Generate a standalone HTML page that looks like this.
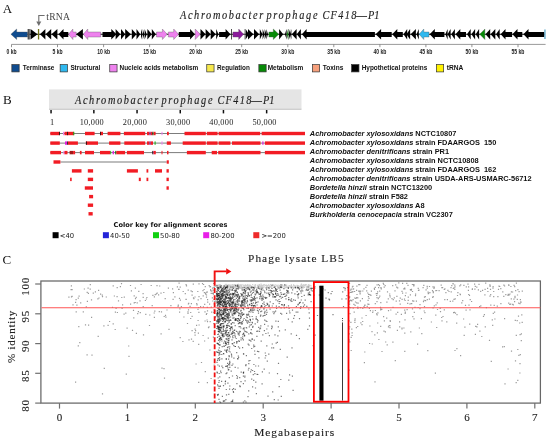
<!DOCTYPE html>
<html><head><meta charset="utf-8"><title>Achromobacter prophage CF418-P1</title>
<style>
*{margin:0;padding:0}
html,body{width:550px;height:441px;background:#fff;overflow:hidden}
svg{display:block}
.lab{font-family:"Liberation Serif",serif;font-size:13px;fill:#111}
.tA{font-family:"Liberation Serif",serif;font-style:italic;font-size:12px;fill:#1e1e1e;stroke:#1e1e1e;stroke-width:0.15px}
.trna{font-family:"Liberation Serif",serif;font-size:9.6px;letter-spacing:0.2px;fill:#444}
.kb{font-family:"Liberation Sans",sans-serif;font-weight:bold;font-size:7px;fill:#222}
.lg{font-family:"Liberation Sans",sans-serif;font-weight:bold;font-size:6.5px;fill:#111}
.axB{font-family:"Liberation Serif",serif;font-size:8.3px;letter-spacing:0.25px;fill:#222}
.sl{font-family:"Liberation Sans",sans-serif;font-weight:bold;font-size:7.4px;fill:#111}
.ck{font-family:"DejaVu Sans",sans-serif;font-weight:bold;font-size:6.6px;fill:#111}
.kt{font-family:"DejaVu Sans",sans-serif;font-size:6.8px;fill:#222}
.tC{font-family:"Liberation Serif",serif;font-size:11.3px;letter-spacing:1.05px;fill:#222;stroke:#222;stroke-width:0.12px}
.tC2{font-family:"Liberation Serif",serif;font-size:11.4px;letter-spacing:0.98px;fill:#222;stroke:#222;stroke-width:0.12px}
.axC{font-family:"Liberation Serif",serif;font-size:11px;fill:#222;stroke:#222;stroke-width:0.1px}
</style></head><body>
<svg width="550" height="441" viewBox="0 0 550 441">
<rect width="550" height="441" fill="#fff"/>
<g id="A">
<text x="2.7" y="12.9" class="lab">A</text>
<text transform="translate(180.0 18.5) scale(0.86 1)" class="tA" textLength="96.7" lengthAdjust="spacing">Achromobacter</text>
<text transform="translate(266.4 18.5) scale(0.86 1)" class="tA" textLength="59.5" lengthAdjust="spacing">prophage</text>
<text transform="translate(322.4 18.5) scale(0.86 1)" class="tA" textLength="39.5" lengthAdjust="spacing">CF418</text>
<text x="356.3" y="18.5" class="tA">—</text>
<text transform="translate(368.0 18.5) scale(0.86 1)" class="tA" textLength="13.4" lengthAdjust="spacing">P1</text>
<text x="46.3" y="19.5" class="trna">tRNA</text>
<path d="M44.6 15.5 H38.8 V21.8" fill="none" stroke="#6e6e6e" stroke-width="1.1"/>
<polygon points="36.3,21.4 41.3,21.4 38.8,25.9" fill="#6e6e6e"/>
<rect x="12" y="33.75" width="532.5" height="1" fill="#111"/>
<polygon points="27.6,32.0 16.7,32.0 16.7,29.0 10.9,34.25 16.7,39.5 16.7,37.0 27.6,37.0" fill="#0f4c8f" stroke="#555" stroke-width="0.35"/><rect x="27.6" y="29.0" width="2.2" height="10.5" fill="#505050"/><polygon points="30.5,29.0 37.6,34.25 30.5,39.5" fill="#000"/><rect x="37.9" y="29.0" width="1.3" height="10.5" fill="#727318"/><polygon points="45.4,29.0 40.0,34.25 45.4,39.5" fill="#000"/><polygon points="51.2,29.0 45.6,34.25 51.2,39.5" fill="#000"/><polygon points="57.4,29.0 51.5,34.25 57.4,39.5" fill="#000"/><polygon points="68.3,32.0 63.5,32.0 63.5,29.0 58.4,34.25 63.5,39.5 63.5,37.0 68.3,37.0" fill="#000"/><polygon points="76.2,32.0 72.9,32.0 72.9,29.0 68.5,34.25 72.9,39.5 72.9,37.0 76.2,37.0" fill="#ee82ee" stroke="#555" stroke-width="0.35"/><polygon points="82.9,29.0 76.1,34.25 82.9,39.5" fill="#000"/><polygon points="100.7,32.0 87.8,32.0 87.8,29.0 83.3,34.25 87.8,39.5 87.8,37.0 100.7,37.0" fill="#ee82ee" stroke="#555" stroke-width="0.35"/><polygon points="102.5,32.0 111.3,32.0 111.3,29.0 116.4,34.25 111.3,39.5 111.3,37.0 102.5,37.0" fill="#000"/><polygon points="115.6,29.0 120.4,34.25 115.6,39.5" fill="#000"/><polygon points="121.0,29.0 125.2,34.25 121.0,39.5" fill="#000"/><polygon points="125.2,29.0 130.9,34.25 125.2,39.5" fill="#000"/><polygon points="131.8,29.0 136.5,34.25 131.8,39.5" fill="#000"/><polygon points="136.5,29.0 140.3,34.25 136.5,39.5" fill="#000"/><polygon points="141.0,29.0 142.6,34.25 141.0,39.5" fill="#000"/><polygon points="142.8,29.0 144.4,34.25 142.8,39.5" fill="#000"/><polygon points="144.6,29.0 146.8,34.25 144.6,39.5" fill="#000"/><polygon points="147.4,29.0 151.8,34.25 147.4,39.5" fill="#000"/><polygon points="151.8,29.0 155.8,34.25 151.8,39.5" fill="#000"/><polygon points="156.5,32.0 162.4,32.0 162.4,29.0 167.2,34.25 162.4,39.5 162.4,37.0 156.5,37.0" fill="#ee82ee" stroke="#555" stroke-width="0.35"/><polygon points="168.3,32.0 173.7,32.0 173.7,29.0 178.6,34.25 173.7,39.5 173.7,37.0 168.3,37.0" fill="#ee82ee" stroke="#555" stroke-width="0.35"/><polygon points="178.8,32.0 190.1,32.0 190.1,29.0 194.9,34.25 190.1,39.5 190.1,37.0 178.8,37.0" fill="#000"/><polygon points="195.2,29.0 200.3,34.25 195.2,39.5" fill="#ee82ee" stroke="#555" stroke-width="0.35"/><polygon points="200.5,29.0 205.6,34.25 200.5,39.5" fill="#000"/><polygon points="205.6,29.0 210.7,34.25 205.6,39.5" fill="#000"/><polygon points="210.7,29.0 215.8,34.25 210.7,39.5" fill="#000"/><polygon points="216.2,29.0 218.5,34.25 216.2,39.5" fill="#000"/><polygon points="219.1,32.0 225.6,32.0 225.6,29.0 230.5,34.25 225.6,39.5 225.6,37.0 219.1,37.0" fill="#000"/><rect x="231.1" y="29.0" width="0.8" height="10.5" fill="#222"/><polygon points="232.9,32.0 238.7,32.0 238.7,29.0 243.6,34.25 238.7,39.5 238.7,37.0 232.9,37.0" fill="#8c1a9c" stroke="#555" stroke-width="0.35"/><rect x="244.6" y="29.0" width="0.7" height="10.5" fill="#555"/><polygon points="245.6,29.0 249.0,34.25 245.6,39.5" fill="#000"/><polygon points="248.0,29.0 253.4,34.25 248.0,39.5" fill="#000"/><polygon points="254.0,29.0 259.2,34.25 254.0,39.5" fill="#000"/><polygon points="259.8,29.0 262.5,34.25 259.8,39.5" fill="#000"/><polygon points="262.6,29.0 264.6,34.25 262.6,39.5" fill="#000"/><polygon points="264.7,29.0 266.6,34.25 264.7,39.5" fill="#000"/><polygon points="266.4,29.0 268.0,34.25 266.4,39.5" fill="#000"/><polygon points="268.9,32.0 273.3,32.0 273.3,29.0 278.8,34.25 273.3,39.5 273.3,37.0 268.9,37.0" fill="#078a07" stroke="#555" stroke-width="0.35"/><polygon points="279.1,29.0 283.2,34.25 279.1,39.5" fill="#000"/><polygon points="286.6,29.0 284.9,34.25 286.6,39.5" fill="#000"/><polygon points="288.4,29.0 286.7,34.25 288.4,39.5" fill="#078a07" stroke="#555" stroke-width="0.35"/><polygon points="290.1,29.0 288.5,34.25 290.1,39.5" fill="#000"/><polygon points="291.4,29.0 289.9,34.25 291.4,39.5" fill="#000"/><polygon points="296.6,29.0 291.8,34.25 296.6,39.5" fill="#000"/><polygon points="300.9,29.0 296.8,34.25 300.9,39.5" fill="#000"/><polygon points="374.9,32.0 306.6,32.0 306.6,29.0 301.9,34.25 306.6,39.5 306.6,37.0 374.9,37.0" fill="#000"/><polygon points="391.7,32.0 381.1,32.0 381.1,29.0 375.6,34.25 381.1,39.5 381.1,37.0 391.7,37.0" fill="#000"/><polygon points="402.8,32.0 397.3,32.0 397.3,29.0 392.2,34.25 397.3,39.5 397.3,37.0 402.8,37.0" fill="#000"/><polygon points="407.2,29.0 403.5,34.25 407.2,39.5" fill="#000"/><polygon points="410.1,29.0 406.4,34.25 410.1,39.5" fill="#000"/><polygon points="415.9,29.0 410.7,34.25 415.9,39.5" fill="#000"/><polygon points="418.8,29.0 416.5,34.25 418.8,39.5" fill="#000"/><polygon points="429.0,32.0 423.8,32.0 423.8,29.0 419.1,34.25 423.8,39.5 423.8,37.0 429.0,37.0" fill="#2fb8ef" stroke="#555" stroke-width="0.35"/><polygon points="444.4,32.0 434.8,32.0 434.8,29.0 429.7,34.25 434.8,39.5 434.8,37.0 444.4,37.0" fill="#000"/><polygon points="447.6,29.0 445.4,34.25 447.6,39.5" fill="#000"/><polygon points="450.6,29.0 447.6,34.25 450.6,39.5" fill="#000"/><polygon points="454.9,29.0 451.2,34.25 454.9,39.5" fill="#000"/><polygon points="466.0,32.0 460.3,32.0 460.3,29.0 455.5,34.25 460.3,39.5 460.3,37.0 466.0,37.0" fill="#000"/><polygon points="470.7,29.0 467.0,34.25 470.7,39.5" fill="#000"/><polygon points="475.1,29.0 471.4,34.25 475.1,39.5" fill="#000"/><polygon points="479.1,29.0 475.7,34.25 479.1,39.5" fill="#000"/><polygon points="484.9,29.0 479.7,34.25 484.9,39.5" fill="#078a07" stroke="#555" stroke-width="0.35"/><polygon points="490.2,29.0 485.5,34.25 490.2,39.5" fill="#000"/><polygon points="495.3,29.0 490.6,34.25 495.3,39.5" fill="#000"/><polygon points="499.7,29.0 496.0,34.25 499.7,39.5" fill="#000"/><polygon points="512.1,32.0 505.5,32.0 505.5,29.0 500.7,34.25 505.5,39.5 505.5,37.0 512.1,37.0" fill="#000"/><polygon points="522.3,32.0 517.5,32.0 517.5,29.0 512.4,34.25 517.5,39.5 517.5,37.0 522.3,37.0" fill="#000"/><polygon points="544.3,32.0 528.5,32.0 528.5,29.0 523.4,34.25 528.5,39.5 528.5,37.0 544.3,37.0" fill="#000"/><rect x="544.3" y="29.5" width="1.3" height="9.5" fill="#5aa6c8"/>
<line x1="11.5" y1="44.4" x2="545.6" y2="44.4" stroke="#9a9a9a" stroke-width="1"/>
<line x1="11.5" y1="44.4" x2="11.5" y2="47.2" stroke="#777" stroke-width="0.8"/>
<text x="11.5" y="53.6" class="kb" text-anchor="middle" textLength="10.1" lengthAdjust="spacingAndGlyphs">0 kb</text>
<line x1="57.5" y1="44.4" x2="57.5" y2="47.2" stroke="#777" stroke-width="0.8"/>
<text x="57.5" y="53.6" class="kb" text-anchor="middle" textLength="10.1" lengthAdjust="spacingAndGlyphs">5 kb</text>
<line x1="103.6" y1="44.4" x2="103.6" y2="47.2" stroke="#777" stroke-width="0.8"/>
<text x="103.6" y="53.6" class="kb" text-anchor="middle" textLength="12.9" lengthAdjust="spacingAndGlyphs">10 kb</text>
<line x1="149.6" y1="44.4" x2="149.6" y2="47.2" stroke="#777" stroke-width="0.8"/>
<text x="149.6" y="53.6" class="kb" text-anchor="middle" textLength="12.9" lengthAdjust="spacingAndGlyphs">15 kb</text>
<line x1="195.7" y1="44.4" x2="195.7" y2="47.2" stroke="#777" stroke-width="0.8"/>
<text x="195.7" y="53.6" class="kb" text-anchor="middle" textLength="12.9" lengthAdjust="spacingAndGlyphs">20 kb</text>
<line x1="241.7" y1="44.4" x2="241.7" y2="47.2" stroke="#777" stroke-width="0.8"/>
<text x="241.7" y="53.6" class="kb" text-anchor="middle" textLength="12.9" lengthAdjust="spacingAndGlyphs">25 kb</text>
<line x1="287.8" y1="44.4" x2="287.8" y2="47.2" stroke="#777" stroke-width="0.8"/>
<text x="287.8" y="53.6" class="kb" text-anchor="middle" textLength="12.9" lengthAdjust="spacingAndGlyphs">30 kb</text>
<line x1="333.8" y1="44.4" x2="333.8" y2="47.2" stroke="#777" stroke-width="0.8"/>
<text x="333.8" y="53.6" class="kb" text-anchor="middle" textLength="12.9" lengthAdjust="spacingAndGlyphs">35 kb</text>
<line x1="379.9" y1="44.4" x2="379.9" y2="47.2" stroke="#777" stroke-width="0.8"/>
<text x="379.9" y="53.6" class="kb" text-anchor="middle" textLength="12.9" lengthAdjust="spacingAndGlyphs">40 kb</text>
<line x1="425.9" y1="44.4" x2="425.9" y2="47.2" stroke="#777" stroke-width="0.8"/>
<text x="425.9" y="53.6" class="kb" text-anchor="middle" textLength="12.9" lengthAdjust="spacingAndGlyphs">45 kb</text>
<line x1="471.9" y1="44.4" x2="471.9" y2="47.2" stroke="#777" stroke-width="0.8"/>
<text x="471.9" y="53.6" class="kb" text-anchor="middle" textLength="12.9" lengthAdjust="spacingAndGlyphs">50 kb</text>
<line x1="518.0" y1="44.4" x2="518.0" y2="47.2" stroke="#777" stroke-width="0.8"/>
<text x="518.0" y="53.6" class="kb" text-anchor="middle" textLength="12.9" lengthAdjust="spacingAndGlyphs">55 kb</text>
<rect x="11.85" y="64.6" width="7.3" height="7.3" fill="#0f4c8f" stroke="#333" stroke-width="0.7"/>
<text x="22.7" y="70.0" class="lg" textLength="31.6" lengthAdjust="spacingAndGlyphs">Terminase</text>
<rect x="60.15" y="64.6" width="7.3" height="7.3" fill="#2fb8ef" stroke="#333" stroke-width="0.7"/>
<text x="70.4" y="70.0" class="lg" textLength="29.9" lengthAdjust="spacingAndGlyphs">Structural</text>
<rect x="109.75" y="64.6" width="7.3" height="7.3" fill="#ee82ee" stroke="#333" stroke-width="0.7"/>
<text x="119.5" y="70.0" class="lg" textLength="78.8" lengthAdjust="spacingAndGlyphs">Nucleic acids metabolism</text>
<rect x="206.75" y="64.6" width="7.3" height="7.3" fill="#f6e84c" stroke="#333" stroke-width="0.7"/>
<text x="217.0" y="70.0" class="lg" textLength="32.9" lengthAdjust="spacingAndGlyphs">Regulation</text>
<rect x="258.85" y="64.6" width="7.3" height="7.3" fill="#078a07" stroke="#333" stroke-width="0.7"/>
<text x="267.7" y="70.0" class="lg" textLength="35.6" lengthAdjust="spacingAndGlyphs">Metabolism</text>
<rect x="312.35" y="64.6" width="7.3" height="7.3" fill="#f7a07c" stroke="#333" stroke-width="0.7"/>
<text x="322.7" y="70.0" class="lg" textLength="20.6" lengthAdjust="spacingAndGlyphs">Toxins</text>
<rect x="351.65" y="64.6" width="7.3" height="7.3" fill="#000" stroke="#333" stroke-width="0.7"/>
<text x="361.7" y="70.0" class="lg" textLength="65.6" lengthAdjust="spacingAndGlyphs">Hypothetical proteins</text>
<rect x="436.35" y="64.6" width="7.3" height="7.3" fill="#fff200" stroke="#333" stroke-width="0.7"/>
<text x="446.7" y="70.0" class="lg" textLength="16.6" lengthAdjust="spacingAndGlyphs">tRNA</text>
</g>
<g id="B">
<text x="2.9" y="104.3" class="lab">B</text>
<rect x="49" y="89.4" width="252.5" height="19.6" fill="#e5e5e5"/>
<rect x="49" y="108.6" width="252.5" height="1.4" fill="#cfcfcf"/>
<text transform="translate(75.0 103.6) scale(0.86 1)" class="tA" textLength="96.7" lengthAdjust="spacing">Achromobacter</text>
<text transform="translate(161.4 103.6) scale(0.86 1)" class="tA" textLength="59.5" lengthAdjust="spacing">prophage</text>
<text transform="translate(217.4 103.6) scale(0.86 1)" class="tA" textLength="39.5" lengthAdjust="spacing">CF418</text>
<text x="251.3" y="103.6" class="tA">—</text>
<text transform="translate(263.0 103.6) scale(0.86 1)" class="tA" textLength="13.4" lengthAdjust="spacing">P1</text>
<rect x="50.3" y="110" width="1.5" height="3.4" fill="#111"/>
<text x="50.0" y="124.6" class="axB">1</text>
<rect x="93.1" y="110" width="1.5" height="3.4" fill="#111"/>
<text x="91.8" y="124.7" class="axB" text-anchor="middle">10,000</text>
<rect x="136.3" y="110" width="1.5" height="3.4" fill="#111"/>
<text x="135.0" y="124.7" class="axB" text-anchor="middle">20,000</text>
<rect x="179.5" y="110" width="1.5" height="3.4" fill="#111"/>
<text x="178.2" y="124.7" class="axB" text-anchor="middle">30,000</text>
<rect x="222.7" y="110" width="1.5" height="3.4" fill="#111"/>
<text x="221.4" y="124.7" class="axB" text-anchor="middle">40,000</text>
<rect x="265.9" y="110" width="1.5" height="3.4" fill="#111"/>
<text x="264.6" y="124.7" class="axB" text-anchor="middle">50,000</text>
<rect x="50.3" y="133.00" width="254.7" height="1" fill="#7c7c7c"/>
<rect x="50.3" y="131.80" width="9.50" height="3.4" fill="#f21c24"/>
<rect x="59.2" y="131.80" width="0.80" height="3.4" fill="#111"/>
<rect x="63.0" y="131.80" width="1.20" height="3.4" fill="#ee82ee"/>
<rect x="64.5" y="131.80" width="9.50" height="3.4" fill="#f21c24"/>
<rect x="67.2" y="131.80" width="0.80" height="3.4" fill="#111"/>
<rect x="73.3" y="131.80" width="1.00" height="3.4" fill="#10b010"/>
<rect x="85" y="131.80" width="9.60" height="3.4" fill="#f21c24"/>
<rect x="100" y="131.80" width="3.00" height="3.4" fill="#f21c24"/>
<rect x="100.2" y="131.80" width="0.80" height="3.4" fill="#111"/>
<rect x="107.6" y="131.80" width="12.80" height="3.4" fill="#f21c24"/>
<rect x="123.9" y="131.80" width="21.30" height="3.4" fill="#f21c24"/>
<rect x="147" y="131.80" width="2.40" height="3.4" fill="#f21c24"/>
<rect x="149.4" y="131.80" width="1.30" height="3.4" fill="#8a1aa0"/>
<rect x="150.7" y="131.80" width="1.60" height="3.4" fill="#f21c24"/>
<rect x="152.3" y="131.80" width="0.60" height="3.4" fill="#111"/>
<rect x="152.9" y="131.80" width="0.70" height="3.4" fill="#10b010"/>
<rect x="153.6" y="131.80" width="2.00" height="3.4" fill="#f21c24"/>
<rect x="161.5" y="131.80" width="1.00" height="3.4" fill="#ee82ee"/>
<rect x="167" y="131.80" width="1.80" height="3.4" fill="#f21c24"/>
<rect x="184.5" y="131.80" width="21.30" height="3.4" fill="#f21c24"/>
<rect x="206.8" y="131.80" width="10.80" height="3.4" fill="#f21c24"/>
<rect x="218.6" y="131.80" width="41.60" height="3.4" fill="#f21c24"/>
<rect x="261.6" y="131.80" width="43.40" height="3.4" fill="#f21c24"/>
<rect x="50.3" y="142.60" width="254.7" height="1" fill="#7c7c7c"/>
<rect x="50.3" y="141.40" width="9.50" height="3.4" fill="#f21c24"/>
<rect x="65" y="141.40" width="2.20" height="3.4" fill="#e020e0"/>
<rect x="67.2" y="141.40" width="0.80" height="3.4" fill="#111"/>
<rect x="68" y="141.40" width="9.90" height="3.4" fill="#f21c24"/>
<rect x="85.8" y="141.40" width="12.20" height="3.4" fill="#f21c24"/>
<rect x="86" y="141.40" width="0.80" height="3.4" fill="#111"/>
<rect x="109.1" y="141.40" width="11.30" height="3.4" fill="#f21c24"/>
<rect x="124.3" y="141.40" width="20.90" height="3.4" fill="#f21c24"/>
<rect x="147" y="141.40" width="2.40" height="3.4" fill="#f21c24"/>
<rect x="149.4" y="141.40" width="1.30" height="3.4" fill="#8a1aa0"/>
<rect x="150.7" y="141.40" width="2.30" height="3.4" fill="#f21c24"/>
<rect x="154.6" y="141.40" width="1.00" height="3.4" fill="#10b010"/>
<rect x="161.5" y="141.40" width="1.00" height="3.4" fill="#ee82ee"/>
<rect x="166.8" y="141.40" width="4.10" height="3.4" fill="#f21c24"/>
<rect x="182.7" y="141.40" width="23.10" height="3.4" fill="#f21c24"/>
<rect x="206.8" y="141.40" width="10.80" height="3.4" fill="#f21c24"/>
<rect x="218.6" y="141.40" width="11.80" height="3.4" fill="#f21c24"/>
<rect x="232" y="141.40" width="28.50" height="3.4" fill="#f21c24"/>
<rect x="262.3" y="141.40" width="1.20" height="3.4" fill="#e020e0"/>
<rect x="264.9" y="141.40" width="40.10" height="3.4" fill="#f21c24"/>
<rect x="50.3" y="152.10" width="254.7" height="1" fill="#7c7c7c"/>
<rect x="50.3" y="150.90" width="10.70" height="3.4" fill="#f21c24"/>
<rect x="63.3" y="150.90" width="1.20" height="3.4" fill="#ee82ee"/>
<rect x="64.5" y="150.90" width="3.00" height="3.4" fill="#f21c24"/>
<rect x="69.6" y="150.90" width="3.50" height="3.4" fill="#a01818"/>
<rect x="73.1" y="150.90" width="2.00" height="3.4" fill="#f21c24"/>
<rect x="79.9" y="150.90" width="1.70" height="3.4" fill="#f21c24"/>
<rect x="85" y="150.90" width="9.00" height="3.4" fill="#f21c24"/>
<rect x="100" y="150.90" width="10.30" height="3.4" fill="#f21c24"/>
<rect x="110.3" y="150.90" width="0.80" height="3.4" fill="#10b010"/>
<rect x="112.6" y="150.90" width="1.40" height="3.4" fill="#e020e0"/>
<rect x="115" y="150.90" width="0.60" height="3.4" fill="#111"/>
<rect x="115.6" y="150.90" width="0.70" height="3.4" fill="#10b010"/>
<rect x="116.3" y="150.90" width="8.80" height="3.4" fill="#f21c24"/>
<rect x="126.9" y="150.90" width="17.10" height="3.4" fill="#f21c24"/>
<rect x="152.3" y="150.90" width="0.80" height="3.4" fill="#111"/>
<rect x="153.1" y="150.90" width="0.50" height="3.4" fill="#8a1aa0"/>
<rect x="153.6" y="150.90" width="2.20" height="3.4" fill="#f21c24"/>
<rect x="161.5" y="150.90" width="1.00" height="3.4" fill="#f21c24"/>
<rect x="167" y="150.90" width="1.50" height="3.4" fill="#f21c24"/>
<rect x="186.9" y="150.90" width="18.90" height="3.4" fill="#f21c24"/>
<rect x="211.7" y="150.90" width="5.30" height="3.4" fill="#f21c24"/>
<rect x="218.2" y="150.90" width="42.30" height="3.4" fill="#f21c24"/>
<rect x="264.9" y="150.90" width="40.10" height="3.4" fill="#f21c24"/>
<rect x="60.4" y="161.50" width="106.3" height="1" fill="#7c7c7c"/>
<rect x="53.5" y="160.30" width="6.90" height="3.4" fill="#f21c24"/>
<rect x="166.7" y="160.30" width="2.10" height="3.4" fill="#f21c24"/>
<rect x="71.9" y="169.20" width="9.60" height="3.4" fill="#f21c24"/>
<rect x="87.8" y="169.20" width="5.30" height="3.4" fill="#f21c24"/>
<rect x="126.9" y="169.20" width="11.00" height="3.4" fill="#f21c24"/>
<rect x="146.5" y="169.20" width="1.80" height="3.4" fill="#f21c24"/>
<rect x="155" y="169.20" width="7.00" height="3.4" fill="#f21c24"/>
<rect x="166.5" y="169.20" width="2.30" height="3.4" fill="#f21c24"/>
<rect x="70.1" y="177.70" width="1.60" height="3.4" fill="#f21c24"/>
<rect x="87.8" y="177.70" width="5.30" height="3.4" fill="#f21c24"/>
<rect x="138.8" y="177.70" width="2.00" height="3.4" fill="#f21c24"/>
<rect x="146.5" y="177.70" width="1.80" height="3.4" fill="#f21c24"/>
<rect x="166.5" y="177.70" width="2.30" height="3.4" fill="#f21c24"/>
<rect x="84.8" y="186.30" width="8.20" height="3.4" fill="#f21c24"/>
<rect x="166.5" y="186.30" width="2.30" height="3.4" fill="#f21c24"/>
<rect x="89.1" y="194.90" width="4.00" height="3.4" fill="#f21c24"/>
<rect x="87.8" y="203.50" width="5.30" height="3.4" fill="#f21c24"/>
<rect x="88.5" y="212.10" width="4.20" height="3.4" fill="#f21c24"/>
<text x="309.8" y="135.60" class="sl"><tspan font-style="italic">Achromobacter xylosoxidans</tspan> NCTC10807</text>
<text x="309.8" y="144.62" class="sl"><tspan font-style="italic">Achromobacter xylosoxidans</tspan> strain FDAARGOS  150</text>
<text x="309.8" y="153.64" class="sl"><tspan font-style="italic">Achromobacter denitrificans</tspan> strain PR1</text>
<text x="309.8" y="162.66" class="sl"><tspan font-style="italic">Achromobacter xylosoxidans</tspan> strain NCTC10808</text>
<text x="309.8" y="171.68" class="sl"><tspan font-style="italic">Achromobacter xylosoxidans</tspan> strain FDAARGOS  162</text>
<text x="309.8" y="180.70" class="sl"><tspan font-style="italic">Achromobacter denitrificans</tspan> strain USDA-ARS-USMARC-56712</text>
<text x="309.8" y="189.72" class="sl"><tspan font-style="italic">Bordetella hinzii</tspan> strain NCTC13200</text>
<text x="309.8" y="198.74" class="sl"><tspan font-style="italic">Bordetella hinzii</tspan> strain F582</text>
<text x="309.8" y="207.76" class="sl"><tspan font-style="italic">Achromobacter xylosoxidans</tspan> A8</text>
<text x="309.8" y="216.78" class="sl"><tspan font-style="italic">Burkholderia cenocepacia</tspan> strain VC2307</text>
<text x="113.6" y="226.8" class="ck">Color key for alignment scores</text>
<rect x="52.6" y="232.2" width="6" height="6" fill="#000"/>
<text x="59.8" y="238.1" class="kt">&lt;40</text>
<rect x="102.9" y="232.2" width="6" height="6" fill="#2424d8"/>
<text x="110.1" y="238.1" class="kt">40-50</text>
<rect x="153.0" y="232.2" width="6" height="6" fill="#10d010"/>
<text x="160.1" y="238.1" class="kt">50-80</text>
<rect x="203.2" y="232.2" width="6" height="6" fill="#e81ee8"/>
<text x="210.4" y="238.1" class="kt">80-200</text>
<rect x="253.3" y="232.2" width="6" height="6" fill="#ee2a2a"/>
<text x="261.4" y="238.1" class="kt">&gt;=200</text>
</g>
<g id="C">
<text x="2.6" y="264.1" class="lab">C</text>
<text x="248.1" y="262.3" class="tC">Phage lysate LB5</text>
<path d="M182.6 290.9h1.2v1.2h-1.2zM176.8 286.3h1.2v1.2h-1.2zM211.9 287.6h1.2v1.2h-1.2zM196.0 324.7h1.2v1.2h-1.2zM70.8 285.3h1.2v1.2h-1.2zM207.0 299.0h1.2v1.2h-1.2zM133.6 302.2h1.2v1.2h-1.2zM197.8 332.6h1.2v1.2h-1.2zM164.6 298.1h1.2v1.2h-1.2zM145.2 313.7h1.2v1.2h-1.2zM70.5 289.0h1.2v1.2h-1.2zM159.1 285.4h1.2v1.2h-1.2zM90.9 299.2h1.2v1.2h-1.2zM163.9 377.6h1.2v1.2h-1.2zM212.8 336.5h1.2v1.2h-1.2zM187.8 303.4h1.2v1.2h-1.2zM202.6 295.2h1.2v1.2h-1.2zM165.3 316.5h1.2v1.2h-1.2zM189.5 305.8h1.2v1.2h-1.2zM203.8 292.1h1.2v1.2h-1.2zM142.6 306.1h1.2v1.2h-1.2zM125.2 312.6h1.2v1.2h-1.2zM86.5 354.2h1.2v1.2h-1.2zM172.0 288.2h1.2v1.2h-1.2zM197.2 290.9h1.2v1.2h-1.2zM203.5 288.9h1.2v1.2h-1.2zM138.2 290.7h1.2v1.2h-1.2zM206.8 382.1h1.2v1.2h-1.2zM210.0 288.9h1.2v1.2h-1.2zM203.0 283.9h1.2v1.2h-1.2zM150.6 284.9h1.2v1.2h-1.2zM123.7 296.6h1.2v1.2h-1.2zM152.3 294.8h1.2v1.2h-1.2zM103.7 367.7h1.2v1.2h-1.2zM178.9 297.8h1.2v1.2h-1.2zM75.0 301.8h1.2v1.2h-1.2zM198.5 324.4h1.2v1.2h-1.2zM131.9 329.7h1.2v1.2h-1.2zM160.4 292.5h1.2v1.2h-1.2zM72.4 304.3h1.2v1.2h-1.2zM202.4 290.1h1.2v1.2h-1.2zM204.7 371.0h1.2v1.2h-1.2zM149.2 314.4h1.2v1.2h-1.2zM100.0 293.6h1.2v1.2h-1.2zM142.6 296.7h1.2v1.2h-1.2zM179.3 308.3h1.2v1.2h-1.2zM82.7 311.3h1.2v1.2h-1.2zM166.4 309.4h1.2v1.2h-1.2zM153.8 316.8h1.2v1.2h-1.2zM192.9 297.2h1.2v1.2h-1.2zM112.6 323.2h1.2v1.2h-1.2zM164.9 314.8h1.2v1.2h-1.2zM91.0 316.8h1.2v1.2h-1.2zM206.7 306.8h1.2v1.2h-1.2zM128.4 355.8h1.2v1.2h-1.2zM130.8 290.2h1.2v1.2h-1.2zM76.3 304.6h1.2v1.2h-1.2zM202.8 306.2h1.2v1.2h-1.2zM183.3 316.4h1.2v1.2h-1.2zM137.1 313.0h1.2v1.2h-1.2zM71.5 289.0h1.2v1.2h-1.2zM190.5 290.2h1.2v1.2h-1.2zM191.7 291.0h1.2v1.2h-1.2zM209.9 285.9h1.2v1.2h-1.2zM78.2 326.1h1.2v1.2h-1.2zM212.2 300.4h1.2v1.2h-1.2zM205.8 313.7h1.2v1.2h-1.2zM212.8 293.6h1.2v1.2h-1.2zM187.4 311.2h1.2v1.2h-1.2zM192.7 283.5h1.2v1.2h-1.2zM160.9 311.3h1.2v1.2h-1.2zM125.7 373.6h1.2v1.2h-1.2zM179.6 286.6h1.2v1.2h-1.2zM210.5 377.9h1.2v1.2h-1.2zM193.3 298.0h1.2v1.2h-1.2zM191.5 315.7h1.2v1.2h-1.2zM178.5 282.5h1.2v1.2h-1.2zM198.3 311.7h1.2v1.2h-1.2zM172.5 298.7h1.2v1.2h-1.2zM114.6 328.9h1.2v1.2h-1.2zM182.3 340.9h1.2v1.2h-1.2zM88.0 324.5h1.2v1.2h-1.2zM153.6 312.4h1.2v1.2h-1.2zM142.9 334.3h1.2v1.2h-1.2zM178.0 288.8h1.2v1.2h-1.2zM135.8 332.8h1.2v1.2h-1.2zM114.8 311.5h1.2v1.2h-1.2zM116.5 296.1h1.2v1.2h-1.2zM198.1 343.8h1.2v1.2h-1.2zM160.5 333.2h1.2v1.2h-1.2zM211.2 290.5h1.2v1.2h-1.2zM146.3 296.9h1.2v1.2h-1.2zM187.4 312.7h1.2v1.2h-1.2zM87.8 292.8h1.2v1.2h-1.2zM163.4 368.1h1.2v1.2h-1.2zM197.5 319.9h1.2v1.2h-1.2zM205.9 294.4h1.2v1.2h-1.2zM215.4 310.6h1.2v1.2h-1.2zM179.8 299.5h1.2v1.2h-1.2zM98.0 289.8h1.2v1.2h-1.2zM188.1 302.7h1.2v1.2h-1.2zM177.5 305.8h1.2v1.2h-1.2zM98.4 297.4h1.2v1.2h-1.2zM155.8 293.2h1.2v1.2h-1.2zM103.3 325.3h1.2v1.2h-1.2zM119.8 286.1h1.2v1.2h-1.2zM132.9 309.7h1.2v1.2h-1.2zM70.9 296.3h1.2v1.2h-1.2zM172.8 292.1h1.2v1.2h-1.2zM158.0 294.2h1.2v1.2h-1.2zM205.0 292.5h1.2v1.2h-1.2zM194.4 296.4h1.2v1.2h-1.2zM170.3 305.1h1.2v1.2h-1.2zM211.8 297.2h1.2v1.2h-1.2zM135.6 296.8h1.2v1.2h-1.2zM75.0 381.5h1.2v1.2h-1.2zM122.0 304.2h1.2v1.2h-1.2zM71.5 295.7h1.2v1.2h-1.2zM126.5 327.6h1.2v1.2h-1.2zM213.5 298.7h1.2v1.2h-1.2zM123.5 313.5h1.2v1.2h-1.2zM140.5 283.9h1.2v1.2h-1.2zM133.6 295.2h1.2v1.2h-1.2zM185.5 284.1h1.2v1.2h-1.2zM191.5 330.0h1.2v1.2h-1.2zM180.8 306.0h1.2v1.2h-1.2zM116.8 311.9h1.2v1.2h-1.2zM101.7 294.6h1.2v1.2h-1.2zM75.6 311.3h1.2v1.2h-1.2zM130.0 303.6h1.2v1.2h-1.2zM213.3 286.8h1.2v1.2h-1.2zM117.9 300.3h1.2v1.2h-1.2zM214.1 329.8h1.2v1.2h-1.2zM201.9 283.1h1.2v1.2h-1.2zM207.1 301.6h1.2v1.2h-1.2zM213.5 309.3h1.2v1.2h-1.2zM177.7 304.6h1.2v1.2h-1.2zM213.8 286.8h1.2v1.2h-1.2zM86.8 300.7h1.2v1.2h-1.2zM190.9 338.5h1.2v1.2h-1.2zM113.8 295.4h1.2v1.2h-1.2zM174.3 296.3h1.2v1.2h-1.2zM200.9 361.9h1.2v1.2h-1.2zM139.4 300.2h1.2v1.2h-1.2zM210.6 292.7h1.2v1.2h-1.2zM214.6 316.8h1.2v1.2h-1.2zM68.3 296.5h1.2v1.2h-1.2zM121.5 307.7h1.2v1.2h-1.2zM128.1 345.4h1.2v1.2h-1.2zM97.3 298.3h1.2v1.2h-1.2zM198.4 296.0h1.2v1.2h-1.2zM144.8 299.9h1.2v1.2h-1.2zM195.5 363.4h1.2v1.2h-1.2zM161.4 367.5h1.2v1.2h-1.2zM187.6 289.5h1.2v1.2h-1.2zM80.1 302.3h1.2v1.2h-1.2zM109.0 320.9h1.2v1.2h-1.2zM205.1 293.6h1.2v1.2h-1.2zM198.4 283.2h1.2v1.2h-1.2zM184.7 293.0h1.2v1.2h-1.2zM209.0 303.6h1.2v1.2h-1.2zM202.5 334.9h1.2v1.2h-1.2zM75.5 299.0h1.2v1.2h-1.2zM92.7 292.6h1.2v1.2h-1.2zM85.7 306.3h1.2v1.2h-1.2zM163.6 315.9h1.2v1.2h-1.2zM136.6 302.3h1.2v1.2h-1.2zM154.2 310.6h1.2v1.2h-1.2zM206.9 310.2h1.2v1.2h-1.2zM84.9 324.2h1.2v1.2h-1.2zM196.4 304.3h1.2v1.2h-1.2zM196.4 303.9h1.2v1.2h-1.2zM192.6 340.8h1.2v1.2h-1.2zM112.6 285.3h1.2v1.2h-1.2zM148.9 324.9h1.2v1.2h-1.2zM168.4 328.7h1.2v1.2h-1.2zM137.8 311.1h1.2v1.2h-1.2zM163.2 291.9h1.2v1.2h-1.2zM167.8 287.6h1.2v1.2h-1.2zM134.8 287.6h1.2v1.2h-1.2zM213.2 311.7h1.2v1.2h-1.2zM94.8 291.2h1.2v1.2h-1.2zM179.0 311.6h1.2v1.2h-1.2zM156.6 292.6h1.2v1.2h-1.2zM86.6 291.8h1.2v1.2h-1.2zM134.6 301.9h1.2v1.2h-1.2zM89.6 288.6h1.2v1.2h-1.2zM105.7 296.4h1.2v1.2h-1.2zM111.9 306.8h1.2v1.2h-1.2zM101.9 296.0h1.2v1.2h-1.2zM129.9 284.9h1.2v1.2h-1.2zM154.6 294.1h1.2v1.2h-1.2zM178.5 288.8h1.2v1.2h-1.2zM142.5 293.1h1.2v1.2h-1.2zM78.5 295.6h1.2v1.2h-1.2zM91.4 354.5h1.2v1.2h-1.2zM133.2 317.3h1.2v1.2h-1.2zM79.2 342.1h1.2v1.2h-1.2zM151.6 305.0h1.2v1.2h-1.2zM214.9 316.0h1.2v1.2h-1.2zM139.7 312.0h1.2v1.2h-1.2zM185.4 298.7h1.2v1.2h-1.2zM120.9 283.0h1.2v1.2h-1.2zM115.5 307.7h1.2v1.2h-1.2zM214.0 300.7h1.2v1.2h-1.2zM121.2 296.9h1.2v1.2h-1.2zM153.8 296.3h1.2v1.2h-1.2zM89.7 284.0h1.2v1.2h-1.2zM77.7 345.2h1.2v1.2h-1.2zM194.5 334.6h1.2v1.2h-1.2zM97.6 335.7h1.2v1.2h-1.2zM145.8 298.4h1.2v1.2h-1.2zM83.8 288.4h1.2v1.2h-1.2zM214.6 285.6h1.2v1.2h-1.2zM116.6 287.0h1.2v1.2h-1.2zM101.9 393.3h1.2v1.2h-1.2zM198.1 381.8h1.2v1.2h-1.2zM134.9 298.0h1.2v1.2h-1.2zM197.6 299.2h1.2v1.2h-1.2zM188.4 339.3h1.2v1.2h-1.2zM156.4 285.1h1.2v1.2h-1.2zM179.6 337.1h1.2v1.2h-1.2zM209.3 349.4h1.2v1.2h-1.2zM158.7 311.0h1.2v1.2h-1.2zM77.7 297.5h1.2v1.2h-1.2zM208.4 326.2h1.2v1.2h-1.2zM107.5 324.8h1.2v1.2h-1.2zM87.5 287.5h1.2v1.2h-1.2zM190.8 303.0h1.2v1.2h-1.2zM204.0 340.4h1.2v1.2h-1.2zM210.1 290.1h1.2v1.2h-1.2zM213.6 303.3h1.2v1.2h-1.2zM206.3 291.7h1.2v1.2h-1.2zM213.6 289.9h1.2v1.2h-1.2zM214.2 297.7h1.2v1.2h-1.2zM215.0 300.6h1.2v1.2h-1.2zM206.5 291.3h1.2v1.2h-1.2zM208.6 285.1h1.2v1.2h-1.2zM204.5 320.4h1.2v1.2h-1.2zM207.7 337.6h1.2v1.2h-1.2zM196.1 302.9h1.2v1.2h-1.2zM195.0 330.0h1.2v1.2h-1.2zM205.9 296.6h1.2v1.2h-1.2zM194.3 332.0h1.2v1.2h-1.2zM206.5 319.4h1.2v1.2h-1.2zM213.2 323.1h1.2v1.2h-1.2zM185.9 285.3h1.2v1.2h-1.2zM187.9 309.3h1.2v1.2h-1.2zM197.4 308.8h1.2v1.2h-1.2zM207.9 327.0h1.2v1.2h-1.2zM185.6 298.8h1.2v1.2h-1.2zM215.8 302.2h1.2v1.2h-1.2zM211.9 292.8h1.2v1.2h-1.2zM212.8 292.5h1.2v1.2h-1.2zM200.0 306.1h1.2v1.2h-1.2zM209.6 321.0h1.2v1.2h-1.2zM211.1 311.6h1.2v1.2h-1.2zM191.5 294.5h1.2v1.2h-1.2zM213.0 282.9h1.2v1.2h-1.2zM210.7 306.5h1.2v1.2h-1.2zM209.4 286.2h1.2v1.2h-1.2zM213.6 364.4h1.2v1.2h-1.2zM186.9 322.9h1.2v1.2h-1.2zM212.5 289.4h1.2v1.2h-1.2zM190.1 317.9h1.2v1.2h-1.2zM194.5 328.6h1.2v1.2h-1.2zM190.1 311.9h1.2v1.2h-1.2zM204.7 286.0h1.2v1.2h-1.2zM204.4 311.3h1.2v1.2h-1.2zM206.2 312.9h1.2v1.2h-1.2zM206.9 321.0h1.2v1.2h-1.2zM198.0 306.9h1.2v1.2h-1.2zM200.4 298.0h1.2v1.2h-1.2zM204.1 303.7h1.2v1.2h-1.2zM423.9 306.0h1.2v1.2h-1.2zM435.2 314.6h1.2v1.2h-1.2zM348.5 320.2h1.2v1.2h-1.2zM349.3 300.1h1.2v1.2h-1.2zM446.8 299.1h1.2v1.2h-1.2zM503.7 346.0h1.2v1.2h-1.2zM365.3 286.7h1.2v1.2h-1.2zM378.3 338.9h1.2v1.2h-1.2zM348.0 285.3h1.2v1.2h-1.2zM399.7 297.5h1.2v1.2h-1.2zM510.3 285.9h1.2v1.2h-1.2zM351.5 334.9h1.2v1.2h-1.2zM451.2 285.1h1.2v1.2h-1.2zM362.1 320.9h1.2v1.2h-1.2zM353.3 303.8h1.2v1.2h-1.2zM384.6 285.1h1.2v1.2h-1.2zM514.7 319.7h1.2v1.2h-1.2zM447.3 289.7h1.2v1.2h-1.2zM363.4 306.0h1.2v1.2h-1.2zM348.5 300.8h1.2v1.2h-1.2zM509.2 303.7h1.2v1.2h-1.2zM514.4 295.7h1.2v1.2h-1.2zM492.4 287.6h1.2v1.2h-1.2zM355.6 297.5h1.2v1.2h-1.2zM397.1 311.8h1.2v1.2h-1.2zM348.4 292.4h1.2v1.2h-1.2zM398.9 300.2h1.2v1.2h-1.2zM426.7 299.1h1.2v1.2h-1.2zM395.6 300.6h1.2v1.2h-1.2zM401.4 290.8h1.2v1.2h-1.2zM347.8 302.4h1.2v1.2h-1.2zM409.3 303.4h1.2v1.2h-1.2zM383.6 286.5h1.2v1.2h-1.2zM452.6 283.4h1.2v1.2h-1.2zM448.4 290.9h1.2v1.2h-1.2zM503.3 284.5h1.2v1.2h-1.2zM471.8 288.3h1.2v1.2h-1.2zM510.8 291.2h1.2v1.2h-1.2zM411.1 303.1h1.2v1.2h-1.2zM424.3 312.1h1.2v1.2h-1.2zM360.3 322.2h1.2v1.2h-1.2zM508.1 302.6h1.2v1.2h-1.2zM492.1 324.7h1.2v1.2h-1.2zM521.6 321.8h1.2v1.2h-1.2zM461.2 302.3h1.2v1.2h-1.2zM436.9 308.9h1.2v1.2h-1.2zM432.7 292.0h1.2v1.2h-1.2zM364.1 304.8h1.2v1.2h-1.2zM364.2 306.9h1.2v1.2h-1.2zM356.1 296.9h1.2v1.2h-1.2zM383.2 283.9h1.2v1.2h-1.2zM374.7 303.1h1.2v1.2h-1.2zM453.4 298.7h1.2v1.2h-1.2zM443.7 288.9h1.2v1.2h-1.2zM459.4 293.4h1.2v1.2h-1.2zM402.0 292.6h1.2v1.2h-1.2zM497.9 288.8h1.2v1.2h-1.2zM361.8 298.0h1.2v1.2h-1.2zM414.4 306.8h1.2v1.2h-1.2zM432.6 296.1h1.2v1.2h-1.2zM350.0 307.1h1.2v1.2h-1.2zM383.4 330.5h1.2v1.2h-1.2zM435.4 304.3h1.2v1.2h-1.2zM519.4 303.0h1.2v1.2h-1.2zM380.3 287.2h1.2v1.2h-1.2zM358.1 290.6h1.2v1.2h-1.2zM504.0 318.0h1.2v1.2h-1.2zM383.8 320.3h1.2v1.2h-1.2zM443.7 309.2h1.2v1.2h-1.2zM378.0 287.0h1.2v1.2h-1.2zM366.1 290.2h1.2v1.2h-1.2zM432.4 286.3h1.2v1.2h-1.2zM414.9 295.1h1.2v1.2h-1.2zM445.3 292.1h1.2v1.2h-1.2zM348.5 369.5h1.2v1.2h-1.2zM348.5 328.2h1.2v1.2h-1.2zM464.9 304.8h1.2v1.2h-1.2zM417.6 306.9h1.2v1.2h-1.2zM377.1 322.4h1.2v1.2h-1.2zM493.1 290.9h1.2v1.2h-1.2zM374.7 286.8h1.2v1.2h-1.2zM380.1 309.4h1.2v1.2h-1.2zM441.1 316.9h1.2v1.2h-1.2zM420.8 318.1h1.2v1.2h-1.2zM366.4 284.8h1.2v1.2h-1.2zM480.1 290.7h1.2v1.2h-1.2zM368.0 293.8h1.2v1.2h-1.2zM456.3 348.0h1.2v1.2h-1.2zM404.6 312.8h1.2v1.2h-1.2zM512.1 303.7h1.2v1.2h-1.2zM406.2 282.7h1.2v1.2h-1.2zM492.7 312.8h1.2v1.2h-1.2zM415.8 300.6h1.2v1.2h-1.2zM431.9 290.0h1.2v1.2h-1.2zM432.5 307.2h1.2v1.2h-1.2zM387.9 310.0h1.2v1.2h-1.2zM389.6 296.4h1.2v1.2h-1.2zM389.1 293.4h1.2v1.2h-1.2zM439.6 307.8h1.2v1.2h-1.2zM348.4 297.5h1.2v1.2h-1.2zM441.4 320.2h1.2v1.2h-1.2zM493.6 304.7h1.2v1.2h-1.2zM521.2 314.2h1.2v1.2h-1.2zM415.0 293.5h1.2v1.2h-1.2zM357.2 297.3h1.2v1.2h-1.2zM353.6 311.5h1.2v1.2h-1.2zM493.1 296.1h1.2v1.2h-1.2zM423.9 296.6h1.2v1.2h-1.2zM376.1 294.9h1.2v1.2h-1.2zM410.9 288.7h1.2v1.2h-1.2zM360.1 290.6h1.2v1.2h-1.2zM387.7 298.3h1.2v1.2h-1.2zM489.4 295.6h1.2v1.2h-1.2zM516.7 298.7h1.2v1.2h-1.2zM379.2 295.5h1.2v1.2h-1.2zM389.7 320.7h1.2v1.2h-1.2zM515.8 282.6h1.2v1.2h-1.2zM428.9 285.9h1.2v1.2h-1.2zM357.2 306.6h1.2v1.2h-1.2zM355.2 297.9h1.2v1.2h-1.2zM376.8 332.3h1.2v1.2h-1.2zM404.1 309.6h1.2v1.2h-1.2zM519.5 334.0h1.2v1.2h-1.2zM366.6 305.8h1.2v1.2h-1.2zM468.4 304.6h1.2v1.2h-1.2zM417.0 343.6h1.2v1.2h-1.2zM510.9 350.5h1.2v1.2h-1.2zM465.5 309.5h1.2v1.2h-1.2zM489.9 288.8h1.2v1.2h-1.2zM419.4 304.1h1.2v1.2h-1.2zM507.5 368.4h1.2v1.2h-1.2zM351.2 300.2h1.2v1.2h-1.2zM440.6 284.6h1.2v1.2h-1.2zM436.1 289.9h1.2v1.2h-1.2zM392.1 285.0h1.2v1.2h-1.2zM392.4 306.7h1.2v1.2h-1.2zM354.1 297.4h1.2v1.2h-1.2zM489.5 285.1h1.2v1.2h-1.2zM452.7 287.9h1.2v1.2h-1.2zM403.3 327.4h1.2v1.2h-1.2zM369.3 325.4h1.2v1.2h-1.2zM484.5 288.8h1.2v1.2h-1.2zM350.3 321.8h1.2v1.2h-1.2zM367.3 303.5h1.2v1.2h-1.2zM519.4 363.1h1.2v1.2h-1.2zM354.0 290.9h1.2v1.2h-1.2zM386.9 291.3h1.2v1.2h-1.2zM481.2 335.9h1.2v1.2h-1.2zM419.4 308.1h1.2v1.2h-1.2zM468.0 286.3h1.2v1.2h-1.2zM432.6 290.9h1.2v1.2h-1.2zM468.9 294.7h1.2v1.2h-1.2zM412.0 300.3h1.2v1.2h-1.2zM442.4 315.9h1.2v1.2h-1.2zM435.3 290.1h1.2v1.2h-1.2zM494.0 311.6h1.2v1.2h-1.2zM514.0 301.1h1.2v1.2h-1.2zM474.7 285.7h1.2v1.2h-1.2zM477.0 323.7h1.2v1.2h-1.2zM490.2 304.5h1.2v1.2h-1.2zM391.4 298.0h1.2v1.2h-1.2zM413.2 300.5h1.2v1.2h-1.2zM372.4 310.4h1.2v1.2h-1.2zM385.1 341.4h1.2v1.2h-1.2zM434.8 372.5h1.2v1.2h-1.2zM427.5 291.5h1.2v1.2h-1.2zM406.5 309.1h1.2v1.2h-1.2zM471.7 288.9h1.2v1.2h-1.2zM426.6 285.7h1.2v1.2h-1.2zM507.7 293.8h1.2v1.2h-1.2zM423.2 284.7h1.2v1.2h-1.2zM410.5 289.8h1.2v1.2h-1.2zM359.5 293.2h1.2v1.2h-1.2zM430.8 321.4h1.2v1.2h-1.2zM513.5 284.7h1.2v1.2h-1.2zM348.9 282.8h1.2v1.2h-1.2zM358.1 284.1h1.2v1.2h-1.2zM476.2 286.6h1.2v1.2h-1.2zM356.0 289.8h1.2v1.2h-1.2zM442.0 287.0h1.2v1.2h-1.2zM390.2 309.4h1.2v1.2h-1.2zM368.4 297.7h1.2v1.2h-1.2zM520.3 301.8h1.2v1.2h-1.2zM500.2 288.0h1.2v1.2h-1.2zM427.7 293.1h1.2v1.2h-1.2zM367.5 299.8h1.2v1.2h-1.2zM372.1 311.9h1.2v1.2h-1.2zM362.2 290.4h1.2v1.2h-1.2zM500.3 303.1h1.2v1.2h-1.2zM350.1 289.6h1.2v1.2h-1.2zM505.2 294.0h1.2v1.2h-1.2zM469.4 309.2h1.2v1.2h-1.2zM397.1 287.3h1.2v1.2h-1.2zM361.4 317.4h1.2v1.2h-1.2zM395.5 313.6h1.2v1.2h-1.2zM424.7 296.0h1.2v1.2h-1.2zM394.7 360.0h1.2v1.2h-1.2zM376.4 297.0h1.2v1.2h-1.2zM407.6 299.7h1.2v1.2h-1.2zM407.1 302.8h1.2v1.2h-1.2zM357.3 307.7h1.2v1.2h-1.2zM354.3 319.8h1.2v1.2h-1.2zM438.5 290.1h1.2v1.2h-1.2zM354.3 321.8h1.2v1.2h-1.2zM377.7 298.1h1.2v1.2h-1.2zM482.0 289.7h1.2v1.2h-1.2zM428.8 298.5h1.2v1.2h-1.2zM446.2 321.2h1.2v1.2h-1.2zM479.0 306.1h1.2v1.2h-1.2zM518.1 302.6h1.2v1.2h-1.2zM401.5 298.7h1.2v1.2h-1.2zM407.4 284.8h1.2v1.2h-1.2zM363.4 288.3h1.2v1.2h-1.2zM474.3 288.5h1.2v1.2h-1.2zM354.5 304.7h1.2v1.2h-1.2zM351.1 291.6h1.2v1.2h-1.2zM456.4 314.0h1.2v1.2h-1.2zM508.3 284.8h1.2v1.2h-1.2zM502.0 346.3h1.2v1.2h-1.2zM389.4 327.0h1.2v1.2h-1.2zM401.4 328.3h1.2v1.2h-1.2zM367.1 292.4h1.2v1.2h-1.2zM463.0 318.4h1.2v1.2h-1.2zM462.1 300.0h1.2v1.2h-1.2zM359.8 300.3h1.2v1.2h-1.2zM348.6 333.3h1.2v1.2h-1.2zM349.1 326.2h1.2v1.2h-1.2zM399.0 321.3h1.2v1.2h-1.2zM439.9 311.1h1.2v1.2h-1.2zM352.6 307.6h1.2v1.2h-1.2zM459.2 285.2h1.2v1.2h-1.2zM518.5 291.0h1.2v1.2h-1.2zM359.5 292.4h1.2v1.2h-1.2zM349.2 341.2h1.2v1.2h-1.2zM487.0 287.8h1.2v1.2h-1.2zM508.1 284.3h1.2v1.2h-1.2zM356.4 293.9h1.2v1.2h-1.2zM485.1 282.6h1.2v1.2h-1.2zM494.3 318.4h1.2v1.2h-1.2zM453.0 312.0h1.2v1.2h-1.2zM422.5 287.0h1.2v1.2h-1.2zM510.1 303.5h1.2v1.2h-1.2zM376.4 301.0h1.2v1.2h-1.2zM349.8 291.9h1.2v1.2h-1.2zM474.8 333.8h1.2v1.2h-1.2zM489.5 285.8h1.2v1.2h-1.2zM364.2 351.4h1.2v1.2h-1.2zM376.7 293.0h1.2v1.2h-1.2zM374.2 334.2h1.2v1.2h-1.2zM444.2 299.1h1.2v1.2h-1.2zM394.4 290.3h1.2v1.2h-1.2zM348.8 301.4h1.2v1.2h-1.2zM413.2 285.3h1.2v1.2h-1.2zM374.8 309.9h1.2v1.2h-1.2zM382.7 282.8h1.2v1.2h-1.2zM364.4 304.6h1.2v1.2h-1.2zM362.2 307.9h1.2v1.2h-1.2zM350.2 299.6h1.2v1.2h-1.2zM399.1 326.2h1.2v1.2h-1.2zM436.6 302.2h1.2v1.2h-1.2zM368.3 303.7h1.2v1.2h-1.2zM363.8 362.1h1.2v1.2h-1.2zM377.3 312.3h1.2v1.2h-1.2zM427.2 350.0h1.2v1.2h-1.2zM404.7 311.6h1.2v1.2h-1.2zM515.1 290.0h1.2v1.2h-1.2zM498.4 285.5h1.2v1.2h-1.2zM510.7 298.3h1.2v1.2h-1.2zM454.4 349.9h1.2v1.2h-1.2zM433.4 287.8h1.2v1.2h-1.2zM441.3 287.1h1.2v1.2h-1.2zM454.4 286.2h1.2v1.2h-1.2zM453.4 287.3h1.2v1.2h-1.2zM374.4 381.2h1.2v1.2h-1.2zM513.3 298.5h1.2v1.2h-1.2zM386.1 317.5h1.2v1.2h-1.2zM352.5 288.5h1.2v1.2h-1.2zM396.8 329.7h1.2v1.2h-1.2zM370.8 290.5h1.2v1.2h-1.2zM449.7 300.8h1.2v1.2h-1.2zM376.6 314.3h1.2v1.2h-1.2zM514.4 297.1h1.2v1.2h-1.2zM479.3 330.5h1.2v1.2h-1.2zM348.9 306.8h1.2v1.2h-1.2zM417.6 287.8h1.2v1.2h-1.2zM358.8 290.4h1.2v1.2h-1.2zM423.5 299.8h1.2v1.2h-1.2zM348.2 296.0h1.2v1.2h-1.2zM404.8 295.1h1.2v1.2h-1.2zM395.1 284.2h1.2v1.2h-1.2zM350.5 291.8h1.2v1.2h-1.2zM444.3 288.2h1.2v1.2h-1.2zM361.4 324.0h1.2v1.2h-1.2zM404.2 332.5h1.2v1.2h-1.2zM432.1 296.8h1.2v1.2h-1.2zM352.3 285.7h1.2v1.2h-1.2zM509.4 293.4h1.2v1.2h-1.2zM520.7 340.0h1.2v1.2h-1.2zM499.1 285.9h1.2v1.2h-1.2zM384.8 331.2h1.2v1.2h-1.2zM459.8 294.1h1.2v1.2h-1.2zM404.3 288.4h1.2v1.2h-1.2zM456.1 322.5h1.2v1.2h-1.2zM517.3 289.1h1.2v1.2h-1.2zM427.9 292.7h1.2v1.2h-1.2zM454.9 312.6h1.2v1.2h-1.2zM476.3 326.3h1.2v1.2h-1.2zM491.7 319.2h1.2v1.2h-1.2zM350.6 288.6h1.2v1.2h-1.2zM351.2 328.5h1.2v1.2h-1.2zM368.8 307.8h1.2v1.2h-1.2zM355.8 327.0h1.2v1.2h-1.2zM371.4 331.1h1.2v1.2h-1.2zM381.2 308.7h1.2v1.2h-1.2zM393.7 297.3h1.2v1.2h-1.2zM349.0 303.6h1.2v1.2h-1.2zM425.0 300.0h1.2v1.2h-1.2zM396.3 295.8h1.2v1.2h-1.2zM396.1 286.6h1.2v1.2h-1.2zM519.7 354.0h1.2v1.2h-1.2zM425.5 289.3h1.2v1.2h-1.2zM467.4 283.6h1.2v1.2h-1.2zM413.5 284.3h1.2v1.2h-1.2zM398.2 282.2h1.2v1.2h-1.2zM504.4 383.3h1.2v1.2h-1.2zM450.4 287.0h1.2v1.2h-1.2zM378.9 285.1h1.2v1.2h-1.2zM411.8 283.9h1.2v1.2h-1.2zM379.9 306.7h1.2v1.2h-1.2zM377.0 291.3h1.2v1.2h-1.2zM380.4 286.9h1.2v1.2h-1.2zM413.7 311.7h1.2v1.2h-1.2zM399.6 303.6h1.2v1.2h-1.2zM350.6 349.9h1.2v1.2h-1.2zM378.0 284.1h1.2v1.2h-1.2zM490.7 360.7h1.2v1.2h-1.2zM492.5 286.0h1.2v1.2h-1.2zM410.6 303.0h1.2v1.2h-1.2zM436.1 326.9h1.2v1.2h-1.2zM489.3 284.2h1.2v1.2h-1.2zM433.7 286.5h1.2v1.2h-1.2zM351.5 332.2h1.2v1.2h-1.2zM482.9 315.8h1.2v1.2h-1.2zM392.7 299.0h1.2v1.2h-1.2zM348.9 296.9h1.2v1.2h-1.2zM519.1 322.4h1.2v1.2h-1.2zM387.9 326.3h1.2v1.2h-1.2zM389.3 295.1h1.2v1.2h-1.2zM418.4 289.5h1.2v1.2h-1.2zM502.2 291.2h1.2v1.2h-1.2zM467.8 289.8h1.2v1.2h-1.2zM454.6 298.3h1.2v1.2h-1.2zM372.2 310.4h1.2v1.2h-1.2zM407.7 296.5h1.2v1.2h-1.2zM484.7 326.2h1.2v1.2h-1.2zM490.1 294.0h1.2v1.2h-1.2zM475.1 325.8h1.2v1.2h-1.2zM512.0 291.4h1.2v1.2h-1.2zM380.1 325.7h1.2v1.2h-1.2zM359.2 291.1h1.2v1.2h-1.2zM383.0 316.0h1.2v1.2h-1.2zM354.5 318.3h1.2v1.2h-1.2zM460.0 355.1h1.2v1.2h-1.2zM457.3 292.1h1.2v1.2h-1.2zM422.9 301.1h1.2v1.2h-1.2zM464.3 326.6h1.2v1.2h-1.2zM409.8 289.1h1.2v1.2h-1.2zM378.5 296.9h1.2v1.2h-1.2zM484.3 294.3h1.2v1.2h-1.2zM463.6 334.7h1.2v1.2h-1.2zM352.5 299.0h1.2v1.2h-1.2zM352.3 291.0h1.2v1.2h-1.2zM380.1 308.3h1.2v1.2h-1.2zM353.0 288.2h1.2v1.2h-1.2zM367.8 296.0h1.2v1.2h-1.2zM359.2 284.0h1.2v1.2h-1.2zM388.6 325.0h1.2v1.2h-1.2zM381.4 350.9h1.2v1.2h-1.2zM417.9 289.7h1.2v1.2h-1.2zM520.2 301.3h1.2v1.2h-1.2zM403.2 288.3h1.2v1.2h-1.2zM412.2 316.0h1.2v1.2h-1.2zM365.5 314.9h1.2v1.2h-1.2zM376.0 313.2h1.2v1.2h-1.2zM514.1 286.1h1.2v1.2h-1.2zM512.7 304.2h1.2v1.2h-1.2zM452.2 300.5h1.2v1.2h-1.2zM411.9 308.3h1.2v1.2h-1.2zM386.6 344.2h1.2v1.2h-1.2zM507.4 294.7h1.2v1.2h-1.2zM480.2 305.3h1.2v1.2h-1.2zM516.9 294.4h1.2v1.2h-1.2zM404.1 287.6h1.2v1.2h-1.2zM433.7 305.3h1.2v1.2h-1.2zM409.8 294.2h1.2v1.2h-1.2zM354.9 301.4h1.2v1.2h-1.2zM478.4 283.7h1.2v1.2h-1.2zM380.7 288.2h1.2v1.2h-1.2zM405.4 292.4h1.2v1.2h-1.2zM351.8 291.4h1.2v1.2h-1.2zM400.8 313.8h1.2v1.2h-1.2zM404.5 299.9h1.2v1.2h-1.2zM497.3 296.0h1.2v1.2h-1.2zM403.9 298.5h1.2v1.2h-1.2zM496.7 305.5h1.2v1.2h-1.2zM460.1 284.3h1.2v1.2h-1.2zM380.2 302.0h1.2v1.2h-1.2zM402.0 282.8h1.2v1.2h-1.2zM370.3 294.8h1.2v1.2h-1.2zM453.8 311.8h1.2v1.2h-1.2zM349.1 296.2h1.2v1.2h-1.2zM503.2 295.8h1.2v1.2h-1.2zM386.3 301.5h1.2v1.2h-1.2zM471.0 300.9h1.2v1.2h-1.2zM418.8 327.4h1.2v1.2h-1.2zM401.4 327.4h1.2v1.2h-1.2zM373.9 288.9h1.2v1.2h-1.2zM429.3 292.0h1.2v1.2h-1.2zM359.9 307.1h1.2v1.2h-1.2zM469.1 323.6h1.2v1.2h-1.2zM465.7 286.2h1.2v1.2h-1.2zM450.6 291.2h1.2v1.2h-1.2zM396.9 287.4h1.2v1.2h-1.2zM474.0 283.6h1.2v1.2h-1.2zM508.6 294.3h1.2v1.2h-1.2zM519.8 299.0h1.2v1.2h-1.2zM483.8 314.0h1.2v1.2h-1.2zM454.2 288.7h1.2v1.2h-1.2zM469.6 299.0h1.2v1.2h-1.2zM369.0 342.9h1.2v1.2h-1.2zM392.3 341.6h1.2v1.2h-1.2zM375.7 293.1h1.2v1.2h-1.2zM389.3 325.1h1.2v1.2h-1.2zM413.4 318.3h1.2v1.2h-1.2zM452.4 283.1h1.2v1.2h-1.2zM410.2 331.2h1.2v1.2h-1.2zM356.1 302.2h1.2v1.2h-1.2zM521.7 290.5h1.2v1.2h-1.2zM356.3 285.5h1.2v1.2h-1.2zM456.9 294.9h1.2v1.2h-1.2zM350.7 299.9h1.2v1.2h-1.2zM426.7 287.5h1.2v1.2h-1.2zM389.6 319.9h1.2v1.2h-1.2zM404.2 350.7h1.2v1.2h-1.2zM348.7 339.4h1.2v1.2h-1.2zM369.8 310.0h1.2v1.2h-1.2zM411.9 290.9h1.2v1.2h-1.2zM373.8 287.8h1.2v1.2h-1.2zM488.9 339.8h1.2v1.2h-1.2zM357.5 302.5h1.2v1.2h-1.2zM351.8 286.4h1.2v1.2h-1.2zM349.4 313.1h1.2v1.2h-1.2zM369.3 294.0h1.2v1.2h-1.2zM421.2 333.1h1.2v1.2h-1.2zM379.1 290.5h1.2v1.2h-1.2zM454.2 284.6h1.2v1.2h-1.2zM463.3 284.8h1.2v1.2h-1.2zM404.4 319.3h1.2v1.2h-1.2zM376.5 284.3h1.2v1.2h-1.2zM468.1 293.9h1.2v1.2h-1.2zM477.8 289.3h1.2v1.2h-1.2zM504.0 285.4h1.2v1.2h-1.2zM487.3 290.9h1.2v1.2h-1.2zM423.6 310.4h1.2v1.2h-1.2zM485.8 307.0h1.2v1.2h-1.2zM371.7 343.4h1.2v1.2h-1.2zM347.9 283.6h1.2v1.2h-1.2zM357.1 325.9h1.2v1.2h-1.2zM412.8 284.1h1.2v1.2h-1.2zM350.6 336.8h1.2v1.2h-1.2zM518.3 354.8h1.2v1.2h-1.2zM517.2 348.9h1.2v1.2h-1.2zM514.9 360.2h1.2v1.2h-1.2zM515.7 334.8h1.2v1.2h-1.2zM517.2 379.7h1.2v1.2h-1.2zM519.3 372.4h1.2v1.2h-1.2zM517.9 315.6h1.2v1.2h-1.2zM516.6 320.0h1.2v1.2h-1.2zM520.8 333.3h1.2v1.2h-1.2zM515.6 382.1h1.2v1.2h-1.2z" fill="#111" fill-opacity="0.42"/>
<path d="M223.9 340.6h1.2v1.2h-1.2zM237.3 317.9h1.2v1.2h-1.2zM274.9 288.0h1.2v1.2h-1.2zM218.1 287.2h1.2v1.2h-1.2zM244.7 295.3h1.2v1.2h-1.2zM225.4 318.5h1.2v1.2h-1.2zM223.5 345.8h1.2v1.2h-1.2zM263.4 307.6h1.2v1.2h-1.2zM259.8 307.1h1.2v1.2h-1.2zM234.6 319.0h1.2v1.2h-1.2zM241.2 301.1h1.2v1.2h-1.2zM238.2 308.3h1.2v1.2h-1.2zM217.3 358.6h1.2v1.2h-1.2zM268.8 295.5h1.2v1.2h-1.2zM225.2 342.5h1.2v1.2h-1.2zM226.8 349.2h1.2v1.2h-1.2zM243.8 289.0h1.2v1.2h-1.2zM229.1 360.8h1.2v1.2h-1.2zM272.5 311.2h1.2v1.2h-1.2zM234.9 319.7h1.2v1.2h-1.2zM228.9 291.2h1.2v1.2h-1.2zM260.8 298.4h1.2v1.2h-1.2zM219.3 317.8h1.2v1.2h-1.2zM280.1 312.7h1.2v1.2h-1.2zM263.7 303.7h1.2v1.2h-1.2zM234.6 307.2h1.2v1.2h-1.2zM264.4 310.7h1.2v1.2h-1.2zM225.8 298.1h1.2v1.2h-1.2zM219.6 310.0h1.2v1.2h-1.2zM232.3 313.5h1.2v1.2h-1.2zM248.4 344.6h1.2v1.2h-1.2zM216.9 304.8h1.2v1.2h-1.2zM242.5 305.1h1.2v1.2h-1.2zM225.8 307.7h1.2v1.2h-1.2zM218.7 302.9h1.2v1.2h-1.2zM216.7 321.1h1.2v1.2h-1.2zM222.4 289.9h1.2v1.2h-1.2zM258.1 326.7h1.2v1.2h-1.2zM252.7 289.5h1.2v1.2h-1.2zM233.4 293.4h1.2v1.2h-1.2zM285.9 306.8h1.2v1.2h-1.2zM254.5 293.5h1.2v1.2h-1.2zM223.4 324.9h1.2v1.2h-1.2zM236.6 291.9h1.2v1.2h-1.2zM223.4 317.0h1.2v1.2h-1.2zM225.3 304.0h1.2v1.2h-1.2zM226.3 332.3h1.2v1.2h-1.2zM219.9 298.8h1.2v1.2h-1.2zM311.8 287.8h1.2v1.2h-1.2zM298.7 302.7h1.2v1.2h-1.2zM303.9 304.3h1.2v1.2h-1.2zM221.1 332.5h1.2v1.2h-1.2zM260.1 295.0h1.2v1.2h-1.2zM217.1 313.4h1.2v1.2h-1.2zM223.1 313.0h1.2v1.2h-1.2zM226.2 300.8h1.2v1.2h-1.2zM238.0 312.5h1.2v1.2h-1.2zM254.7 294.3h1.2v1.2h-1.2zM234.9 290.2h1.2v1.2h-1.2zM226.6 316.9h1.2v1.2h-1.2zM231.2 312.4h1.2v1.2h-1.2zM228.4 317.0h1.2v1.2h-1.2zM217.5 315.5h1.2v1.2h-1.2zM228.7 309.0h1.2v1.2h-1.2zM219.5 291.3h1.2v1.2h-1.2zM255.2 293.4h1.2v1.2h-1.2zM290.9 298.2h1.2v1.2h-1.2zM225.5 306.1h1.2v1.2h-1.2zM219.3 301.5h1.2v1.2h-1.2zM222.0 318.6h1.2v1.2h-1.2zM297.6 303.7h1.2v1.2h-1.2zM236.0 308.2h1.2v1.2h-1.2zM256.0 301.9h1.2v1.2h-1.2zM219.0 302.2h1.2v1.2h-1.2zM232.4 305.9h1.2v1.2h-1.2zM264.1 319.5h1.2v1.2h-1.2zM241.9 300.9h1.2v1.2h-1.2zM227.0 306.4h1.2v1.2h-1.2zM217.1 342.8h1.2v1.2h-1.2zM220.8 350.9h1.2v1.2h-1.2zM266.3 320.9h1.2v1.2h-1.2zM216.2 321.1h1.2v1.2h-1.2zM231.7 308.1h1.2v1.2h-1.2zM220.9 326.6h1.2v1.2h-1.2zM229.2 293.8h1.2v1.2h-1.2zM219.0 318.4h1.2v1.2h-1.2zM235.4 318.2h1.2v1.2h-1.2zM217.5 293.3h1.2v1.2h-1.2zM257.8 310.5h1.2v1.2h-1.2zM257.1 292.1h1.2v1.2h-1.2zM217.0 325.7h1.2v1.2h-1.2zM264.0 323.8h1.2v1.2h-1.2zM222.6 327.2h1.2v1.2h-1.2zM226.1 296.4h1.2v1.2h-1.2zM235.2 319.9h1.2v1.2h-1.2zM223.4 306.6h1.2v1.2h-1.2zM228.8 294.4h1.2v1.2h-1.2zM244.7 290.7h1.2v1.2h-1.2zM246.1 297.8h1.2v1.2h-1.2zM229.4 299.5h1.2v1.2h-1.2zM222.1 297.4h1.2v1.2h-1.2zM232.1 294.3h1.2v1.2h-1.2zM216.8 312.5h1.2v1.2h-1.2zM235.3 304.2h1.2v1.2h-1.2zM216.4 315.1h1.2v1.2h-1.2zM218.2 321.1h1.2v1.2h-1.2zM222.1 293.1h1.2v1.2h-1.2zM222.1 333.7h1.2v1.2h-1.2zM217.7 308.0h1.2v1.2h-1.2zM246.1 327.4h1.2v1.2h-1.2zM230.5 302.4h1.2v1.2h-1.2zM248.1 314.5h1.2v1.2h-1.2zM252.7 298.9h1.2v1.2h-1.2zM260.4 296.0h1.2v1.2h-1.2zM235.6 337.9h1.2v1.2h-1.2zM246.4 331.8h1.2v1.2h-1.2zM221.8 288.1h1.2v1.2h-1.2zM222.9 314.0h1.2v1.2h-1.2zM224.9 331.6h1.2v1.2h-1.2zM217.9 326.8h1.2v1.2h-1.2zM220.1 306.8h1.2v1.2h-1.2zM225.4 306.8h1.2v1.2h-1.2zM269.1 294.8h1.2v1.2h-1.2zM242.6 296.1h1.2v1.2h-1.2zM241.9 302.2h1.2v1.2h-1.2zM246.8 299.8h1.2v1.2h-1.2zM244.7 299.1h1.2v1.2h-1.2zM217.7 330.7h1.2v1.2h-1.2zM249.6 299.2h1.2v1.2h-1.2zM219.3 311.5h1.2v1.2h-1.2zM281.1 313.5h1.2v1.2h-1.2zM235.0 285.1h1.2v1.2h-1.2zM240.4 381.1h1.2v1.2h-1.2zM254.1 297.9h1.2v1.2h-1.2zM220.4 304.1h1.2v1.2h-1.2zM266.5 302.7h1.2v1.2h-1.2zM252.9 306.9h1.2v1.2h-1.2zM260.2 314.5h1.2v1.2h-1.2zM225.4 306.1h1.2v1.2h-1.2zM230.6 326.9h1.2v1.2h-1.2zM222.3 305.4h1.2v1.2h-1.2zM248.9 303.7h1.2v1.2h-1.2zM221.9 317.2h1.2v1.2h-1.2zM217.7 307.9h1.2v1.2h-1.2zM220.2 314.0h1.2v1.2h-1.2zM222.4 335.5h1.2v1.2h-1.2zM219.1 312.2h1.2v1.2h-1.2zM244.3 300.2h1.2v1.2h-1.2zM271.7 343.4h1.2v1.2h-1.2zM254.9 297.9h1.2v1.2h-1.2zM252.9 291.7h1.2v1.2h-1.2zM282.6 293.7h1.2v1.2h-1.2zM221.9 334.3h1.2v1.2h-1.2zM224.4 310.8h1.2v1.2h-1.2zM220.5 308.6h1.2v1.2h-1.2zM238.2 319.4h1.2v1.2h-1.2zM290.4 300.4h1.2v1.2h-1.2zM234.2 307.6h1.2v1.2h-1.2zM253.5 305.2h1.2v1.2h-1.2zM222.0 294.9h1.2v1.2h-1.2zM243.1 292.3h1.2v1.2h-1.2zM262.3 298.1h1.2v1.2h-1.2zM226.6 285.4h1.2v1.2h-1.2zM233.6 312.9h1.2v1.2h-1.2zM229.4 330.3h1.2v1.2h-1.2zM228.0 343.5h1.2v1.2h-1.2zM223.0 319.7h1.2v1.2h-1.2zM226.8 302.7h1.2v1.2h-1.2zM226.8 299.9h1.2v1.2h-1.2zM226.9 314.5h1.2v1.2h-1.2zM249.1 316.0h1.2v1.2h-1.2zM248.1 307.2h1.2v1.2h-1.2zM227.2 302.4h1.2v1.2h-1.2zM226.7 341.7h1.2v1.2h-1.2zM251.8 322.4h1.2v1.2h-1.2zM228.4 300.6h1.2v1.2h-1.2zM224.3 291.3h1.2v1.2h-1.2zM295.6 311.5h1.2v1.2h-1.2zM216.8 316.0h1.2v1.2h-1.2zM244.5 296.7h1.2v1.2h-1.2zM284.3 284.3h1.2v1.2h-1.2zM250.2 311.4h1.2v1.2h-1.2zM220.1 320.1h1.2v1.2h-1.2zM228.1 335.8h1.2v1.2h-1.2zM217.5 290.0h1.2v1.2h-1.2zM234.4 311.2h1.2v1.2h-1.2zM252.0 297.2h1.2v1.2h-1.2zM293.9 315.1h1.2v1.2h-1.2zM235.5 309.2h1.2v1.2h-1.2zM224.9 380.4h1.2v1.2h-1.2zM220.8 295.6h1.2v1.2h-1.2zM221.6 298.0h1.2v1.2h-1.2zM220.6 301.9h1.2v1.2h-1.2zM217.0 320.1h1.2v1.2h-1.2zM224.9 295.7h1.2v1.2h-1.2zM225.5 373.0h1.2v1.2h-1.2zM254.9 306.3h1.2v1.2h-1.2zM228.2 314.7h1.2v1.2h-1.2zM241.1 302.0h1.2v1.2h-1.2zM217.4 295.3h1.2v1.2h-1.2zM216.9 302.6h1.2v1.2h-1.2zM222.8 328.8h1.2v1.2h-1.2zM285.1 295.5h1.2v1.2h-1.2zM241.8 303.9h1.2v1.2h-1.2zM229.0 297.7h1.2v1.2h-1.2zM242.1 293.6h1.2v1.2h-1.2zM230.4 310.3h1.2v1.2h-1.2zM306.3 288.8h1.2v1.2h-1.2zM217.5 303.6h1.2v1.2h-1.2zM298.8 338.1h1.2v1.2h-1.2zM248.3 360.2h1.2v1.2h-1.2zM234.3 291.3h1.2v1.2h-1.2zM224.6 314.8h1.2v1.2h-1.2zM225.1 287.0h1.2v1.2h-1.2zM217.9 333.6h1.2v1.2h-1.2zM220.0 300.9h1.2v1.2h-1.2zM248.4 311.4h1.2v1.2h-1.2zM229.2 305.3h1.2v1.2h-1.2zM216.3 296.0h1.2v1.2h-1.2zM230.4 298.7h1.2v1.2h-1.2zM230.5 294.0h1.2v1.2h-1.2zM217.7 308.2h1.2v1.2h-1.2zM261.6 296.4h1.2v1.2h-1.2zM235.8 294.1h1.2v1.2h-1.2zM218.9 301.5h1.2v1.2h-1.2zM229.8 319.2h1.2v1.2h-1.2zM249.5 318.7h1.2v1.2h-1.2zM231.8 288.8h1.2v1.2h-1.2zM274.1 286.5h1.2v1.2h-1.2zM255.7 316.3h1.2v1.2h-1.2zM268.7 287.6h1.2v1.2h-1.2zM233.4 309.7h1.2v1.2h-1.2zM279.5 289.5h1.2v1.2h-1.2zM229.5 289.4h1.2v1.2h-1.2zM294.8 287.2h1.2v1.2h-1.2zM311.0 287.7h1.2v1.2h-1.2zM234.9 309.9h1.2v1.2h-1.2zM248.6 288.1h1.2v1.2h-1.2zM230.7 323.7h1.2v1.2h-1.2zM246.9 295.9h1.2v1.2h-1.2zM288.1 297.0h1.2v1.2h-1.2zM272.9 294.1h1.2v1.2h-1.2zM259.0 309.1h1.2v1.2h-1.2zM217.1 287.5h1.2v1.2h-1.2zM262.2 294.5h1.2v1.2h-1.2zM291.2 292.2h1.2v1.2h-1.2zM230.0 316.4h1.2v1.2h-1.2zM218.7 313.7h1.2v1.2h-1.2zM236.6 287.7h1.2v1.2h-1.2zM227.0 294.5h1.2v1.2h-1.2zM223.9 291.0h1.2v1.2h-1.2zM217.7 293.4h1.2v1.2h-1.2zM237.8 323.1h1.2v1.2h-1.2zM302.9 305.7h1.2v1.2h-1.2zM276.3 294.9h1.2v1.2h-1.2zM300.1 290.6h1.2v1.2h-1.2zM275.8 305.6h1.2v1.2h-1.2zM229.8 309.7h1.2v1.2h-1.2zM229.1 319.7h1.2v1.2h-1.2zM291.3 300.8h1.2v1.2h-1.2zM234.3 296.0h1.2v1.2h-1.2zM262.2 303.1h1.2v1.2h-1.2zM238.0 315.0h1.2v1.2h-1.2zM297.8 287.1h1.2v1.2h-1.2zM249.1 289.2h1.2v1.2h-1.2zM276.4 288.8h1.2v1.2h-1.2zM239.0 300.4h1.2v1.2h-1.2zM238.1 286.3h1.2v1.2h-1.2zM310.0 294.6h1.2v1.2h-1.2zM223.8 318.3h1.2v1.2h-1.2zM231.2 289.5h1.2v1.2h-1.2zM253.6 298.3h1.2v1.2h-1.2zM279.5 300.9h1.2v1.2h-1.2zM224.7 287.8h1.2v1.2h-1.2zM251.8 304.6h1.2v1.2h-1.2zM287.8 287.5h1.2v1.2h-1.2zM255.8 291.5h1.2v1.2h-1.2zM224.6 298.2h1.2v1.2h-1.2zM283.3 288.0h1.2v1.2h-1.2zM300.7 290.3h1.2v1.2h-1.2zM308.6 312.2h1.2v1.2h-1.2zM217.5 298.3h1.2v1.2h-1.2zM250.7 293.8h1.2v1.2h-1.2zM314.1 287.9h1.2v1.2h-1.2zM278.0 294.6h1.2v1.2h-1.2zM307.4 286.4h1.2v1.2h-1.2zM307.6 294.2h1.2v1.2h-1.2zM283.8 307.2h1.2v1.2h-1.2zM218.3 354.5h1.2v1.2h-1.2zM244.4 330.7h1.2v1.2h-1.2zM252.7 374.0h1.2v1.2h-1.2zM219.0 327.2h1.2v1.2h-1.2zM291.8 375.6h1.2v1.2h-1.2zM219.8 385.6h1.2v1.2h-1.2zM274.4 334.2h1.2v1.2h-1.2zM223.1 325.9h1.2v1.2h-1.2zM216.4 361.8h1.2v1.2h-1.2zM234.6 345.9h1.2v1.2h-1.2zM239.6 326.1h1.2v1.2h-1.2zM256.5 373.7h1.2v1.2h-1.2zM251.4 338.6h1.2v1.2h-1.2zM268.2 353.5h1.2v1.2h-1.2zM237.5 333.3h1.2v1.2h-1.2zM292.5 389.7h1.2v1.2h-1.2zM219.2 376.3h1.2v1.2h-1.2zM227.9 342.0h1.2v1.2h-1.2zM232.9 388.0h1.2v1.2h-1.2zM291.4 347.2h1.2v1.2h-1.2zM249.3 339.7h1.2v1.2h-1.2zM222.7 400.6h1.2v1.2h-1.2zM218.0 328.5h1.2v1.2h-1.2zM288.2 379.6h1.2v1.2h-1.2zM231.6 327.4h1.2v1.2h-1.2zM252.0 369.9h1.2v1.2h-1.2zM221.2 353.9h1.2v1.2h-1.2zM244.2 376.6h1.2v1.2h-1.2zM245.7 327.0h1.2v1.2h-1.2zM243.1 353.4h1.2v1.2h-1.2zM232.2 399.4h1.2v1.2h-1.2zM218.4 398.7h1.2v1.2h-1.2zM248.3 367.7h1.2v1.2h-1.2zM280.2 378.9h1.2v1.2h-1.2zM242.9 372.5h1.2v1.2h-1.2zM255.2 381.6h1.2v1.2h-1.2zM261.8 371.3h1.2v1.2h-1.2zM253.3 363.9h1.2v1.2h-1.2zM218.4 387.7h1.2v1.2h-1.2zM225.7 388.9h1.2v1.2h-1.2zM216.5 371.6h1.2v1.2h-1.2zM234.3 333.3h1.2v1.2h-1.2zM220.0 370.6h1.2v1.2h-1.2zM224.8 332.8h1.2v1.2h-1.2zM256.9 350.7h1.2v1.2h-1.2zM228.6 356.0h1.2v1.2h-1.2zM218.6 380.0h1.2v1.2h-1.2zM234.6 366.8h1.2v1.2h-1.2zM342.9 305.9h1.2v1.2h-1.2zM347.2 287.0h1.2v1.2h-1.2zM332.4 314.0h1.2v1.2h-1.2zM341.3 298.4h1.2v1.2h-1.2zM325.4 297.6h1.2v1.2h-1.2z" fill="#111" fill-opacity="0.55"/>
<path d="M231.5 333.3h1.2v1.2h-1.2zM221.8 323.0h1.2v1.2h-1.2zM252.4 311.7h1.2v1.2h-1.2zM221.1 290.8h1.2v1.2h-1.2zM226.5 316.0h1.2v1.2h-1.2zM224.2 309.2h1.2v1.2h-1.2zM225.9 292.4h1.2v1.2h-1.2zM220.9 298.2h1.2v1.2h-1.2zM228.2 337.7h1.2v1.2h-1.2zM229.8 296.3h1.2v1.2h-1.2zM224.8 301.0h1.2v1.2h-1.2zM237.4 295.3h1.2v1.2h-1.2zM223.5 302.0h1.2v1.2h-1.2zM247.9 321.2h1.2v1.2h-1.2zM268.5 304.9h1.2v1.2h-1.2zM233.2 313.0h1.2v1.2h-1.2zM223.1 295.1h1.2v1.2h-1.2zM231.9 389.0h1.2v1.2h-1.2zM282.0 296.7h1.2v1.2h-1.2zM233.4 317.2h1.2v1.2h-1.2zM219.1 300.1h1.2v1.2h-1.2zM235.2 307.3h1.2v1.2h-1.2zM225.3 343.1h1.2v1.2h-1.2zM227.9 315.8h1.2v1.2h-1.2zM231.8 297.8h1.2v1.2h-1.2zM218.8 294.4h1.2v1.2h-1.2zM222.9 289.6h1.2v1.2h-1.2zM218.9 314.7h1.2v1.2h-1.2zM226.3 327.0h1.2v1.2h-1.2zM239.5 313.4h1.2v1.2h-1.2zM216.9 325.2h1.2v1.2h-1.2zM234.6 325.1h1.2v1.2h-1.2zM218.5 330.4h1.2v1.2h-1.2zM242.8 319.6h1.2v1.2h-1.2zM223.5 298.4h1.2v1.2h-1.2zM222.3 333.2h1.2v1.2h-1.2zM242.9 353.3h1.2v1.2h-1.2zM232.0 307.9h1.2v1.2h-1.2zM234.6 319.9h1.2v1.2h-1.2zM232.8 300.1h1.2v1.2h-1.2zM217.2 301.2h1.2v1.2h-1.2zM243.7 288.9h1.2v1.2h-1.2zM233.6 322.4h1.2v1.2h-1.2zM235.5 289.2h1.2v1.2h-1.2zM217.5 317.2h1.2v1.2h-1.2zM222.0 300.1h1.2v1.2h-1.2zM230.4 300.6h1.2v1.2h-1.2zM272.3 295.5h1.2v1.2h-1.2zM218.7 296.7h1.2v1.2h-1.2zM219.6 285.7h1.2v1.2h-1.2zM229.3 304.0h1.2v1.2h-1.2zM222.0 317.1h1.2v1.2h-1.2zM216.4 295.2h1.2v1.2h-1.2zM216.7 312.6h1.2v1.2h-1.2zM216.6 326.1h1.2v1.2h-1.2zM249.8 320.1h1.2v1.2h-1.2zM268.4 305.2h1.2v1.2h-1.2zM251.3 309.5h1.2v1.2h-1.2zM224.4 300.8h1.2v1.2h-1.2zM243.2 303.8h1.2v1.2h-1.2zM227.6 289.6h1.2v1.2h-1.2zM219.3 305.7h1.2v1.2h-1.2zM235.1 305.3h1.2v1.2h-1.2zM218.4 319.1h1.2v1.2h-1.2zM223.7 300.4h1.2v1.2h-1.2zM232.8 302.0h1.2v1.2h-1.2zM225.4 309.6h1.2v1.2h-1.2zM278.4 298.9h1.2v1.2h-1.2zM216.9 336.8h1.2v1.2h-1.2zM242.2 334.0h1.2v1.2h-1.2zM246.7 317.0h1.2v1.2h-1.2zM223.8 300.9h1.2v1.2h-1.2zM216.1 313.4h1.2v1.2h-1.2zM264.2 312.1h1.2v1.2h-1.2zM218.5 320.7h1.2v1.2h-1.2zM219.6 296.0h1.2v1.2h-1.2zM250.7 302.8h1.2v1.2h-1.2zM268.5 304.6h1.2v1.2h-1.2zM223.1 301.1h1.2v1.2h-1.2zM266.3 292.6h1.2v1.2h-1.2zM219.5 326.7h1.2v1.2h-1.2zM228.7 315.1h1.2v1.2h-1.2zM235.5 306.1h1.2v1.2h-1.2zM242.8 375.5h1.2v1.2h-1.2zM230.5 333.9h1.2v1.2h-1.2zM250.2 307.3h1.2v1.2h-1.2zM244.3 289.8h1.2v1.2h-1.2zM217.2 301.4h1.2v1.2h-1.2zM235.8 290.0h1.2v1.2h-1.2zM220.1 318.9h1.2v1.2h-1.2zM220.5 326.7h1.2v1.2h-1.2zM232.7 293.6h1.2v1.2h-1.2zM241.8 321.1h1.2v1.2h-1.2zM241.3 300.0h1.2v1.2h-1.2zM304.6 299.6h1.2v1.2h-1.2zM221.9 307.3h1.2v1.2h-1.2zM276.0 307.7h1.2v1.2h-1.2zM240.5 304.2h1.2v1.2h-1.2zM221.3 288.8h1.2v1.2h-1.2zM225.8 305.9h1.2v1.2h-1.2zM264.4 314.8h1.2v1.2h-1.2zM251.1 347.9h1.2v1.2h-1.2zM221.1 300.3h1.2v1.2h-1.2zM230.3 286.5h1.2v1.2h-1.2zM216.0 297.9h1.2v1.2h-1.2zM244.4 303.3h1.2v1.2h-1.2zM221.1 317.4h1.2v1.2h-1.2zM250.9 300.5h1.2v1.2h-1.2zM222.0 304.6h1.2v1.2h-1.2zM218.1 302.9h1.2v1.2h-1.2zM219.0 299.2h1.2v1.2h-1.2zM257.2 330.5h1.2v1.2h-1.2zM219.8 315.2h1.2v1.2h-1.2zM224.7 287.5h1.2v1.2h-1.2zM262.4 315.5h1.2v1.2h-1.2zM229.1 306.0h1.2v1.2h-1.2zM283.8 304.1h1.2v1.2h-1.2zM221.5 318.0h1.2v1.2h-1.2zM227.5 318.5h1.2v1.2h-1.2zM228.3 304.7h1.2v1.2h-1.2zM241.0 303.1h1.2v1.2h-1.2zM226.8 306.9h1.2v1.2h-1.2zM218.6 352.3h1.2v1.2h-1.2zM245.6 289.5h1.2v1.2h-1.2zM251.2 305.3h1.2v1.2h-1.2zM230.5 302.0h1.2v1.2h-1.2zM231.3 325.9h1.2v1.2h-1.2zM222.9 312.0h1.2v1.2h-1.2zM237.3 317.9h1.2v1.2h-1.2zM233.6 329.8h1.2v1.2h-1.2zM233.2 345.0h1.2v1.2h-1.2zM253.7 296.0h1.2v1.2h-1.2zM239.4 295.7h1.2v1.2h-1.2zM225.4 332.1h1.2v1.2h-1.2zM228.1 297.2h1.2v1.2h-1.2zM224.9 301.6h1.2v1.2h-1.2zM242.0 321.4h1.2v1.2h-1.2zM218.5 307.0h1.2v1.2h-1.2zM223.3 313.0h1.2v1.2h-1.2zM224.5 305.6h1.2v1.2h-1.2zM230.9 305.8h1.2v1.2h-1.2zM226.9 317.3h1.2v1.2h-1.2zM224.9 320.7h1.2v1.2h-1.2zM256.8 309.8h1.2v1.2h-1.2zM221.5 304.9h1.2v1.2h-1.2zM245.5 287.7h1.2v1.2h-1.2zM241.3 312.5h1.2v1.2h-1.2zM232.3 286.6h1.2v1.2h-1.2zM251.2 300.1h1.2v1.2h-1.2zM221.2 313.7h1.2v1.2h-1.2zM226.6 316.0h1.2v1.2h-1.2zM219.7 299.8h1.2v1.2h-1.2zM234.8 319.1h1.2v1.2h-1.2zM219.2 305.4h1.2v1.2h-1.2zM233.9 309.3h1.2v1.2h-1.2zM224.5 318.1h1.2v1.2h-1.2zM224.7 321.5h1.2v1.2h-1.2zM223.7 317.8h1.2v1.2h-1.2zM217.0 318.8h1.2v1.2h-1.2zM226.3 308.5h1.2v1.2h-1.2zM239.0 297.2h1.2v1.2h-1.2zM226.7 336.0h1.2v1.2h-1.2zM286.0 294.5h1.2v1.2h-1.2zM243.2 313.6h1.2v1.2h-1.2zM252.7 298.1h1.2v1.2h-1.2zM224.4 312.1h1.2v1.2h-1.2zM231.3 307.4h1.2v1.2h-1.2zM233.6 309.8h1.2v1.2h-1.2zM225.2 317.7h1.2v1.2h-1.2zM220.2 296.0h1.2v1.2h-1.2zM255.7 318.2h1.2v1.2h-1.2zM225.3 292.1h1.2v1.2h-1.2zM225.0 302.4h1.2v1.2h-1.2zM238.5 326.1h1.2v1.2h-1.2zM227.0 308.5h1.2v1.2h-1.2zM300.2 306.2h1.2v1.2h-1.2zM217.6 313.0h1.2v1.2h-1.2zM224.7 300.1h1.2v1.2h-1.2zM221.7 335.0h1.2v1.2h-1.2zM225.3 328.2h1.2v1.2h-1.2zM228.1 341.4h1.2v1.2h-1.2zM263.9 312.5h1.2v1.2h-1.2zM247.6 307.7h1.2v1.2h-1.2zM233.0 287.9h1.2v1.2h-1.2zM221.6 296.5h1.2v1.2h-1.2zM224.9 303.3h1.2v1.2h-1.2zM239.1 330.7h1.2v1.2h-1.2zM226.1 349.6h1.2v1.2h-1.2zM217.9 339.8h1.2v1.2h-1.2zM219.0 308.7h1.2v1.2h-1.2zM247.2 305.4h1.2v1.2h-1.2zM216.0 327.9h1.2v1.2h-1.2zM228.8 300.2h1.2v1.2h-1.2zM274.5 296.6h1.2v1.2h-1.2zM223.5 345.4h1.2v1.2h-1.2zM232.6 332.4h1.2v1.2h-1.2zM231.8 328.4h1.2v1.2h-1.2zM219.9 324.4h1.2v1.2h-1.2zM226.1 351.8h1.2v1.2h-1.2zM223.3 310.4h1.2v1.2h-1.2zM240.5 313.5h1.2v1.2h-1.2zM225.4 305.6h1.2v1.2h-1.2zM234.7 305.3h1.2v1.2h-1.2zM251.8 307.3h1.2v1.2h-1.2zM216.0 293.5h1.2v1.2h-1.2zM224.5 303.8h1.2v1.2h-1.2zM221.2 311.7h1.2v1.2h-1.2zM237.5 288.6h1.2v1.2h-1.2zM249.1 304.3h1.2v1.2h-1.2zM219.2 329.3h1.2v1.2h-1.2zM222.4 304.2h1.2v1.2h-1.2zM217.6 328.2h1.2v1.2h-1.2zM238.3 314.5h1.2v1.2h-1.2zM216.4 300.7h1.2v1.2h-1.2zM258.9 330.7h1.2v1.2h-1.2zM263.3 314.9h1.2v1.2h-1.2zM293.1 317.8h1.2v1.2h-1.2zM223.9 293.7h1.2v1.2h-1.2zM227.1 316.4h1.2v1.2h-1.2zM249.2 321.9h1.2v1.2h-1.2zM232.3 317.6h1.2v1.2h-1.2zM268.0 293.3h1.2v1.2h-1.2zM226.6 313.0h1.2v1.2h-1.2zM237.4 284.9h1.2v1.2h-1.2zM288.5 307.7h1.2v1.2h-1.2zM232.9 299.0h1.2v1.2h-1.2zM222.9 289.0h1.2v1.2h-1.2zM217.7 288.2h1.2v1.2h-1.2zM308.5 293.9h1.2v1.2h-1.2zM275.0 288.3h1.2v1.2h-1.2zM229.7 304.3h1.2v1.2h-1.2zM275.1 293.2h1.2v1.2h-1.2zM281.0 304.0h1.2v1.2h-1.2zM306.2 305.7h1.2v1.2h-1.2zM240.3 293.0h1.2v1.2h-1.2zM257.4 301.3h1.2v1.2h-1.2zM313.5 286.7h1.2v1.2h-1.2zM286.2 292.1h1.2v1.2h-1.2zM256.6 290.7h1.2v1.2h-1.2zM243.6 287.1h1.2v1.2h-1.2zM268.3 292.3h1.2v1.2h-1.2zM297.2 311.5h1.2v1.2h-1.2zM230.4 308.5h1.2v1.2h-1.2zM220.5 294.5h1.2v1.2h-1.2zM278.5 287.6h1.2v1.2h-1.2zM218.1 297.9h1.2v1.2h-1.2zM235.9 307.6h1.2v1.2h-1.2zM280.7 297.5h1.2v1.2h-1.2zM297.3 304.4h1.2v1.2h-1.2zM268.9 293.9h1.2v1.2h-1.2zM227.1 297.8h1.2v1.2h-1.2zM296.8 293.9h1.2v1.2h-1.2zM225.5 286.5h1.2v1.2h-1.2zM223.0 291.0h1.2v1.2h-1.2zM280.7 286.6h1.2v1.2h-1.2zM229.6 296.8h1.2v1.2h-1.2zM292.0 289.2h1.2v1.2h-1.2zM272.7 293.8h1.2v1.2h-1.2zM307.8 292.5h1.2v1.2h-1.2zM235.7 288.3h1.2v1.2h-1.2zM239.8 331.0h1.2v1.2h-1.2zM217.7 295.0h1.2v1.2h-1.2zM313.3 289.0h1.2v1.2h-1.2zM268.4 289.7h1.2v1.2h-1.2zM272.5 296.6h1.2v1.2h-1.2zM259.8 293.2h1.2v1.2h-1.2zM265.4 320.3h1.2v1.2h-1.2zM223.3 294.8h1.2v1.2h-1.2zM231.7 292.8h1.2v1.2h-1.2zM310.2 287.7h1.2v1.2h-1.2zM221.9 302.9h1.2v1.2h-1.2zM252.8 302.3h1.2v1.2h-1.2zM309.2 294.0h1.2v1.2h-1.2zM269.9 289.7h1.2v1.2h-1.2zM305.6 289.5h1.2v1.2h-1.2zM253.4 286.9h1.2v1.2h-1.2zM262.5 289.6h1.2v1.2h-1.2zM223.8 291.4h1.2v1.2h-1.2zM262.5 298.8h1.2v1.2h-1.2zM300.3 306.1h1.2v1.2h-1.2zM225.0 306.3h1.2v1.2h-1.2zM265.9 313.8h1.2v1.2h-1.2zM226.8 286.5h1.2v1.2h-1.2zM235.1 318.1h1.2v1.2h-1.2zM218.3 320.3h1.2v1.2h-1.2zM280.3 292.1h1.2v1.2h-1.2zM226.9 287.4h1.2v1.2h-1.2zM247.6 343.5h1.2v1.2h-1.2zM229.6 336.3h1.2v1.2h-1.2zM219.5 339.9h1.2v1.2h-1.2zM228.9 362.7h1.2v1.2h-1.2zM217.0 384.2h1.2v1.2h-1.2zM263.6 368.6h1.2v1.2h-1.2zM225.8 350.5h1.2v1.2h-1.2zM279.7 348.7h1.2v1.2h-1.2zM226.9 347.0h1.2v1.2h-1.2zM225.8 330.8h1.2v1.2h-1.2zM257.2 373.9h1.2v1.2h-1.2zM253.9 370.9h1.2v1.2h-1.2zM253.1 379.7h1.2v1.2h-1.2zM228.7 377.0h1.2v1.2h-1.2zM228.0 358.6h1.2v1.2h-1.2zM242.8 372.0h1.2v1.2h-1.2zM244.3 375.4h1.2v1.2h-1.2zM254.4 353.8h1.2v1.2h-1.2zM225.7 358.0h1.2v1.2h-1.2zM218.6 372.9h1.2v1.2h-1.2zM218.8 359.8h1.2v1.2h-1.2zM237.2 358.2h1.2v1.2h-1.2zM237.4 367.4h1.2v1.2h-1.2zM255.1 365.4h1.2v1.2h-1.2zM247.8 369.4h1.2v1.2h-1.2zM289.0 374.2h1.2v1.2h-1.2zM242.1 336.2h1.2v1.2h-1.2zM225.2 365.9h1.2v1.2h-1.2zM266.2 345.3h1.2v1.2h-1.2zM263.8 330.0h1.2v1.2h-1.2zM237.7 355.4h1.2v1.2h-1.2zM254.9 387.4h1.2v1.2h-1.2zM238.0 356.8h1.2v1.2h-1.2zM218.9 357.0h1.2v1.2h-1.2zM314.5 334.5h1.2v1.2h-1.2zM247.4 396.0h1.2v1.2h-1.2zM267.4 395.6h1.2v1.2h-1.2zM231.1 356.2h1.2v1.2h-1.2zM239.2 385.2h1.2v1.2h-1.2zM254.3 373.1h1.2v1.2h-1.2zM250.1 332.0h1.2v1.2h-1.2zM272.1 391.3h1.2v1.2h-1.2zM242.8 383.1h1.2v1.2h-1.2zM236.9 376.2h1.2v1.2h-1.2zM239.1 377.1h1.2v1.2h-1.2zM229.9 329.3h1.2v1.2h-1.2zM220.0 402.1h1.2v1.2h-1.2zM223.2 400.5h1.2v1.2h-1.2zM264.7 352.4h1.2v1.2h-1.2zM344.6 287.7h1.2v1.2h-1.2zM322.4 288.2h1.2v1.2h-1.2zM342.1 291.2h1.2v1.2h-1.2zM321.0 294.5h1.2v1.2h-1.2zM320.7 287.3h1.2v1.2h-1.2z" fill="#111" fill-opacity="0.55"/>
<path d="M235.1 318.7h1.2v1.2h-1.2zM221.1 289.4h1.2v1.2h-1.2zM227.5 317.2h1.2v1.2h-1.2zM245.0 291.6h1.2v1.2h-1.2zM251.2 302.9h1.2v1.2h-1.2zM236.1 352.1h1.2v1.2h-1.2zM246.5 314.6h1.2v1.2h-1.2zM227.1 313.5h1.2v1.2h-1.2zM220.8 298.2h1.2v1.2h-1.2zM217.6 302.4h1.2v1.2h-1.2zM221.8 296.4h1.2v1.2h-1.2zM233.6 295.4h1.2v1.2h-1.2zM273.0 290.3h1.2v1.2h-1.2zM236.4 310.7h1.2v1.2h-1.2zM254.9 302.8h1.2v1.2h-1.2zM221.0 293.6h1.2v1.2h-1.2zM259.5 293.5h1.2v1.2h-1.2zM237.7 304.5h1.2v1.2h-1.2zM236.0 300.4h1.2v1.2h-1.2zM221.9 313.1h1.2v1.2h-1.2zM225.4 305.8h1.2v1.2h-1.2zM226.9 309.6h1.2v1.2h-1.2zM228.4 290.3h1.2v1.2h-1.2zM231.3 308.6h1.2v1.2h-1.2zM226.1 289.3h1.2v1.2h-1.2zM236.8 285.9h1.2v1.2h-1.2zM266.2 328.4h1.2v1.2h-1.2zM219.0 341.4h1.2v1.2h-1.2zM281.8 304.2h1.2v1.2h-1.2zM220.6 323.1h1.2v1.2h-1.2zM240.1 322.2h1.2v1.2h-1.2zM225.5 302.0h1.2v1.2h-1.2zM217.6 327.2h1.2v1.2h-1.2zM228.8 302.8h1.2v1.2h-1.2zM224.5 310.4h1.2v1.2h-1.2zM238.1 340.3h1.2v1.2h-1.2zM219.7 303.9h1.2v1.2h-1.2zM254.4 299.9h1.2v1.2h-1.2zM216.9 298.5h1.2v1.2h-1.2zM234.9 293.4h1.2v1.2h-1.2zM221.5 303.9h1.2v1.2h-1.2zM251.8 292.5h1.2v1.2h-1.2zM225.8 296.7h1.2v1.2h-1.2zM234.6 306.0h1.2v1.2h-1.2zM237.9 318.3h1.2v1.2h-1.2zM260.9 305.2h1.2v1.2h-1.2zM242.5 298.2h1.2v1.2h-1.2zM227.2 323.1h1.2v1.2h-1.2zM253.0 305.2h1.2v1.2h-1.2zM226.2 290.7h1.2v1.2h-1.2zM218.2 322.0h1.2v1.2h-1.2zM222.9 330.6h1.2v1.2h-1.2zM219.6 330.0h1.2v1.2h-1.2zM241.5 294.7h1.2v1.2h-1.2zM241.6 323.4h1.2v1.2h-1.2zM224.6 330.0h1.2v1.2h-1.2zM221.8 296.2h1.2v1.2h-1.2zM242.4 307.9h1.2v1.2h-1.2zM259.2 296.2h1.2v1.2h-1.2zM247.0 304.5h1.2v1.2h-1.2zM247.8 293.5h1.2v1.2h-1.2zM223.1 302.1h1.2v1.2h-1.2zM234.0 289.8h1.2v1.2h-1.2zM251.6 308.4h1.2v1.2h-1.2zM219.9 337.0h1.2v1.2h-1.2zM274.4 290.6h1.2v1.2h-1.2zM250.1 300.2h1.2v1.2h-1.2zM219.5 293.6h1.2v1.2h-1.2zM246.0 294.9h1.2v1.2h-1.2zM271.4 284.5h1.2v1.2h-1.2zM249.8 291.5h1.2v1.2h-1.2zM230.1 300.2h1.2v1.2h-1.2zM228.0 317.6h1.2v1.2h-1.2zM283.8 304.6h1.2v1.2h-1.2zM239.9 317.7h1.2v1.2h-1.2zM226.9 329.7h1.2v1.2h-1.2zM220.0 329.6h1.2v1.2h-1.2zM224.5 296.6h1.2v1.2h-1.2zM240.6 306.0h1.2v1.2h-1.2zM231.6 343.1h1.2v1.2h-1.2zM217.6 319.2h1.2v1.2h-1.2zM218.7 300.2h1.2v1.2h-1.2zM260.2 306.7h1.2v1.2h-1.2zM217.9 349.5h1.2v1.2h-1.2zM218.6 316.6h1.2v1.2h-1.2zM218.3 304.9h1.2v1.2h-1.2zM243.7 298.9h1.2v1.2h-1.2zM274.0 311.5h1.2v1.2h-1.2zM216.5 342.8h1.2v1.2h-1.2zM218.1 294.9h1.2v1.2h-1.2zM225.4 293.5h1.2v1.2h-1.2zM226.0 314.2h1.2v1.2h-1.2zM222.5 287.9h1.2v1.2h-1.2zM224.1 308.4h1.2v1.2h-1.2zM217.4 287.0h1.2v1.2h-1.2zM261.0 288.5h1.2v1.2h-1.2zM234.7 345.9h1.2v1.2h-1.2zM220.7 285.3h1.2v1.2h-1.2zM246.3 313.8h1.2v1.2h-1.2zM236.7 300.5h1.2v1.2h-1.2zM278.6 301.1h1.2v1.2h-1.2zM266.0 309.5h1.2v1.2h-1.2zM227.6 300.2h1.2v1.2h-1.2zM287.8 318.6h1.2v1.2h-1.2zM222.6 326.4h1.2v1.2h-1.2zM234.4 289.8h1.2v1.2h-1.2zM223.1 308.5h1.2v1.2h-1.2zM237.2 311.8h1.2v1.2h-1.2zM226.9 309.7h1.2v1.2h-1.2zM218.3 297.3h1.2v1.2h-1.2zM225.3 301.4h1.2v1.2h-1.2zM225.5 307.0h1.2v1.2h-1.2zM256.3 335.7h1.2v1.2h-1.2zM217.8 330.7h1.2v1.2h-1.2zM286.0 312.8h1.2v1.2h-1.2zM223.8 304.6h1.2v1.2h-1.2zM238.1 333.3h1.2v1.2h-1.2zM243.7 299.8h1.2v1.2h-1.2zM218.3 298.7h1.2v1.2h-1.2zM260.1 311.1h1.2v1.2h-1.2zM221.0 294.3h1.2v1.2h-1.2zM223.0 305.0h1.2v1.2h-1.2zM216.7 291.3h1.2v1.2h-1.2zM228.9 334.5h1.2v1.2h-1.2zM228.2 393.7h1.2v1.2h-1.2zM247.2 295.2h1.2v1.2h-1.2zM226.9 365.1h1.2v1.2h-1.2zM217.3 311.9h1.2v1.2h-1.2zM218.8 365.6h1.2v1.2h-1.2zM225.9 394.3h1.2v1.2h-1.2zM223.8 285.5h1.2v1.2h-1.2zM222.9 352.9h1.2v1.2h-1.2zM266.1 297.1h1.2v1.2h-1.2zM229.5 311.6h1.2v1.2h-1.2zM238.6 295.7h1.2v1.2h-1.2zM241.3 307.0h1.2v1.2h-1.2zM243.7 302.4h1.2v1.2h-1.2zM225.6 350.4h1.2v1.2h-1.2zM221.1 314.9h1.2v1.2h-1.2zM222.3 335.0h1.2v1.2h-1.2zM265.3 332.9h1.2v1.2h-1.2zM227.0 285.5h1.2v1.2h-1.2zM221.4 304.4h1.2v1.2h-1.2zM223.4 330.5h1.2v1.2h-1.2zM218.3 294.7h1.2v1.2h-1.2zM240.5 309.7h1.2v1.2h-1.2zM221.9 310.3h1.2v1.2h-1.2zM241.4 312.1h1.2v1.2h-1.2zM222.0 293.4h1.2v1.2h-1.2zM246.3 297.6h1.2v1.2h-1.2zM251.2 298.9h1.2v1.2h-1.2zM220.7 317.4h1.2v1.2h-1.2zM238.8 322.2h1.2v1.2h-1.2zM221.4 289.6h1.2v1.2h-1.2zM260.2 291.0h1.2v1.2h-1.2zM223.7 335.6h1.2v1.2h-1.2zM223.4 294.7h1.2v1.2h-1.2zM218.4 303.8h1.2v1.2h-1.2zM241.8 314.5h1.2v1.2h-1.2zM264.9 297.3h1.2v1.2h-1.2zM226.7 324.7h1.2v1.2h-1.2zM220.1 296.8h1.2v1.2h-1.2zM243.0 313.8h1.2v1.2h-1.2zM271.6 326.5h1.2v1.2h-1.2zM220.0 313.3h1.2v1.2h-1.2zM224.5 318.4h1.2v1.2h-1.2zM236.5 294.4h1.2v1.2h-1.2zM237.6 309.8h1.2v1.2h-1.2zM222.4 313.9h1.2v1.2h-1.2zM218.8 338.2h1.2v1.2h-1.2zM223.0 301.6h1.2v1.2h-1.2zM218.6 301.4h1.2v1.2h-1.2zM226.7 365.9h1.2v1.2h-1.2zM232.0 302.4h1.2v1.2h-1.2zM237.7 304.6h1.2v1.2h-1.2zM225.3 334.1h1.2v1.2h-1.2zM223.1 309.6h1.2v1.2h-1.2zM260.2 325.3h1.2v1.2h-1.2zM217.1 333.9h1.2v1.2h-1.2zM218.6 331.4h1.2v1.2h-1.2zM223.1 299.1h1.2v1.2h-1.2zM217.1 327.4h1.2v1.2h-1.2zM285.4 298.3h1.2v1.2h-1.2zM241.4 307.2h1.2v1.2h-1.2zM218.9 308.8h1.2v1.2h-1.2zM271.7 305.4h1.2v1.2h-1.2zM239.0 319.6h1.2v1.2h-1.2zM225.2 290.6h1.2v1.2h-1.2zM275.0 310.5h1.2v1.2h-1.2zM216.8 295.4h1.2v1.2h-1.2zM266.8 304.0h1.2v1.2h-1.2zM221.3 340.4h1.2v1.2h-1.2zM217.8 322.9h1.2v1.2h-1.2zM231.5 297.0h1.2v1.2h-1.2zM250.8 304.7h1.2v1.2h-1.2zM218.2 309.0h1.2v1.2h-1.2zM227.6 346.2h1.2v1.2h-1.2zM274.0 296.1h1.2v1.2h-1.2zM251.4 310.4h1.2v1.2h-1.2zM234.2 308.3h1.2v1.2h-1.2zM241.7 323.0h1.2v1.2h-1.2zM225.8 303.5h1.2v1.2h-1.2zM261.4 297.8h1.2v1.2h-1.2zM233.4 301.6h1.2v1.2h-1.2zM251.8 338.6h1.2v1.2h-1.2zM242.2 302.0h1.2v1.2h-1.2zM234.2 303.7h1.2v1.2h-1.2zM238.0 298.3h1.2v1.2h-1.2zM271.2 347.2h1.2v1.2h-1.2zM219.2 344.5h1.2v1.2h-1.2zM228.7 295.2h1.2v1.2h-1.2zM243.9 335.2h1.2v1.2h-1.2zM302.1 290.3h1.2v1.2h-1.2zM253.2 308.2h1.2v1.2h-1.2zM222.6 316.7h1.2v1.2h-1.2zM232.3 315.1h1.2v1.2h-1.2zM222.3 334.5h1.2v1.2h-1.2zM229.1 304.7h1.2v1.2h-1.2zM255.1 301.5h1.2v1.2h-1.2zM226.3 338.1h1.2v1.2h-1.2zM217.5 301.3h1.2v1.2h-1.2zM229.4 294.0h1.2v1.2h-1.2zM229.4 303.6h1.2v1.2h-1.2zM260.5 292.2h1.2v1.2h-1.2zM226.8 309.2h1.2v1.2h-1.2zM223.1 342.5h1.2v1.2h-1.2zM233.9 312.5h1.2v1.2h-1.2zM223.3 302.4h1.2v1.2h-1.2zM259.2 288.2h1.2v1.2h-1.2zM300.6 292.4h1.2v1.2h-1.2zM250.0 309.0h1.2v1.2h-1.2zM216.2 292.5h1.2v1.2h-1.2zM238.1 287.5h1.2v1.2h-1.2zM252.5 287.2h1.2v1.2h-1.2zM295.8 306.0h1.2v1.2h-1.2zM310.5 301.1h1.2v1.2h-1.2zM218.3 325.2h1.2v1.2h-1.2zM220.9 314.2h1.2v1.2h-1.2zM271.6 290.8h1.2v1.2h-1.2zM224.3 288.8h1.2v1.2h-1.2zM307.1 289.9h1.2v1.2h-1.2zM221.3 334.4h1.2v1.2h-1.2zM256.6 290.7h1.2v1.2h-1.2zM257.3 291.9h1.2v1.2h-1.2zM216.8 288.8h1.2v1.2h-1.2zM223.6 301.5h1.2v1.2h-1.2zM287.0 292.4h1.2v1.2h-1.2zM256.8 319.0h1.2v1.2h-1.2zM288.1 292.2h1.2v1.2h-1.2zM232.0 295.8h1.2v1.2h-1.2zM267.7 287.2h1.2v1.2h-1.2zM230.6 298.3h1.2v1.2h-1.2zM280.2 286.3h1.2v1.2h-1.2zM264.0 290.6h1.2v1.2h-1.2zM275.8 290.3h1.2v1.2h-1.2zM265.7 287.6h1.2v1.2h-1.2zM247.9 313.5h1.2v1.2h-1.2zM216.9 293.8h1.2v1.2h-1.2zM216.0 290.7h1.2v1.2h-1.2zM257.7 287.9h1.2v1.2h-1.2zM233.2 293.2h1.2v1.2h-1.2zM241.0 293.7h1.2v1.2h-1.2zM251.2 286.5h1.2v1.2h-1.2zM217.1 327.2h1.2v1.2h-1.2zM284.2 293.3h1.2v1.2h-1.2zM298.1 293.0h1.2v1.2h-1.2zM286.9 290.3h1.2v1.2h-1.2zM242.5 289.5h1.2v1.2h-1.2zM261.6 287.5h1.2v1.2h-1.2zM287.8 287.4h1.2v1.2h-1.2zM229.4 304.5h1.2v1.2h-1.2zM256.0 292.2h1.2v1.2h-1.2zM220.0 297.7h1.2v1.2h-1.2zM266.4 311.8h1.2v1.2h-1.2zM226.7 293.6h1.2v1.2h-1.2zM241.7 287.4h1.2v1.2h-1.2zM238.9 296.2h1.2v1.2h-1.2zM297.6 287.7h1.2v1.2h-1.2zM310.6 289.2h1.2v1.2h-1.2zM228.0 297.1h1.2v1.2h-1.2zM303.7 294.7h1.2v1.2h-1.2zM260.0 293.1h1.2v1.2h-1.2zM308.2 308.4h1.2v1.2h-1.2zM232.9 309.6h1.2v1.2h-1.2zM308.9 317.5h1.2v1.2h-1.2zM308.9 294.0h1.2v1.2h-1.2zM220.4 296.7h1.2v1.2h-1.2zM251.1 378.6h1.2v1.2h-1.2zM216.9 359.9h1.2v1.2h-1.2zM259.2 328.2h1.2v1.2h-1.2zM224.8 381.1h1.2v1.2h-1.2zM221.3 365.6h1.2v1.2h-1.2zM229.2 385.4h1.2v1.2h-1.2zM216.9 394.1h1.2v1.2h-1.2zM242.8 401.6h1.2v1.2h-1.2zM268.7 372.4h1.2v1.2h-1.2zM258.1 351.0h1.2v1.2h-1.2zM278.9 330.2h1.2v1.2h-1.2zM273.0 347.3h1.2v1.2h-1.2zM257.9 365.4h1.2v1.2h-1.2zM218.3 326.6h1.2v1.2h-1.2zM227.3 382.6h1.2v1.2h-1.2zM243.0 371.5h1.2v1.2h-1.2zM217.8 357.9h1.2v1.2h-1.2zM245.2 365.0h1.2v1.2h-1.2zM234.6 388.8h1.2v1.2h-1.2zM225.6 365.6h1.2v1.2h-1.2zM219.2 350.3h1.2v1.2h-1.2zM232.8 390.9h1.2v1.2h-1.2zM236.3 383.0h1.2v1.2h-1.2zM251.4 333.2h1.2v1.2h-1.2zM225.6 330.1h1.2v1.2h-1.2zM245.4 401.6h1.2v1.2h-1.2zM217.2 351.8h1.2v1.2h-1.2zM226.4 334.1h1.2v1.2h-1.2zM286.6 356.5h1.2v1.2h-1.2zM228.9 348.3h1.2v1.2h-1.2zM265.2 355.1h1.2v1.2h-1.2zM227.0 362.8h1.2v1.2h-1.2zM229.1 346.2h1.2v1.2h-1.2zM250.0 371.2h1.2v1.2h-1.2zM233.3 357.6h1.2v1.2h-1.2zM220.7 337.4h1.2v1.2h-1.2zM240.6 371.5h1.2v1.2h-1.2zM225.8 334.7h1.2v1.2h-1.2zM229.0 388.5h1.2v1.2h-1.2zM238.8 332.2h1.2v1.2h-1.2zM261.5 383.2h1.2v1.2h-1.2zM229.2 366.7h1.2v1.2h-1.2zM275.6 342.5h1.2v1.2h-1.2zM228.0 332.0h1.2v1.2h-1.2zM248.5 339.4h1.2v1.2h-1.2zM231.4 364.7h1.2v1.2h-1.2zM231.8 400.3h1.2v1.2h-1.2zM253.7 339.6h1.2v1.2h-1.2zM255.8 393.1h1.2v1.2h-1.2zM331.5 290.9h1.2v1.2h-1.2zM327.7 292.1h1.2v1.2h-1.2zM330.5 293.1h1.2v1.2h-1.2zM318.8 294.4h1.2v1.2h-1.2zM328.9 299.2h1.2v1.2h-1.2z" fill="#111" fill-opacity="0.55"/>
<path d="M263.3 308.5h1.2v1.2h-1.2zM226.4 339.1h1.2v1.2h-1.2zM227.6 293.3h1.2v1.2h-1.2zM275.1 296.1h1.2v1.2h-1.2zM227.2 334.0h1.2v1.2h-1.2zM223.3 309.3h1.2v1.2h-1.2zM222.7 330.4h1.2v1.2h-1.2zM226.8 293.6h1.2v1.2h-1.2zM261.2 305.2h1.2v1.2h-1.2zM256.0 288.8h1.2v1.2h-1.2zM220.8 289.6h1.2v1.2h-1.2zM219.9 302.1h1.2v1.2h-1.2zM244.0 301.3h1.2v1.2h-1.2zM242.8 332.9h1.2v1.2h-1.2zM216.5 314.3h1.2v1.2h-1.2zM218.1 326.7h1.2v1.2h-1.2zM254.4 304.8h1.2v1.2h-1.2zM232.0 335.5h1.2v1.2h-1.2zM219.1 295.6h1.2v1.2h-1.2zM225.6 315.9h1.2v1.2h-1.2zM254.0 309.4h1.2v1.2h-1.2zM226.9 315.4h1.2v1.2h-1.2zM248.6 310.9h1.2v1.2h-1.2zM233.1 303.2h1.2v1.2h-1.2zM242.0 338.1h1.2v1.2h-1.2zM225.4 297.7h1.2v1.2h-1.2zM230.9 306.2h1.2v1.2h-1.2zM223.8 300.4h1.2v1.2h-1.2zM243.1 299.7h1.2v1.2h-1.2zM231.2 302.1h1.2v1.2h-1.2zM238.3 297.1h1.2v1.2h-1.2zM257.9 312.6h1.2v1.2h-1.2zM219.1 326.8h1.2v1.2h-1.2zM225.4 338.2h1.2v1.2h-1.2zM217.1 293.2h1.2v1.2h-1.2zM254.6 323.2h1.2v1.2h-1.2zM219.8 309.8h1.2v1.2h-1.2zM221.0 293.4h1.2v1.2h-1.2zM239.7 304.7h1.2v1.2h-1.2zM228.1 291.9h1.2v1.2h-1.2zM237.9 346.2h1.2v1.2h-1.2zM221.1 309.9h1.2v1.2h-1.2zM217.3 298.4h1.2v1.2h-1.2zM225.7 286.7h1.2v1.2h-1.2zM261.4 299.7h1.2v1.2h-1.2zM220.2 291.9h1.2v1.2h-1.2zM259.9 315.5h1.2v1.2h-1.2zM217.4 321.2h1.2v1.2h-1.2zM239.9 315.5h1.2v1.2h-1.2zM277.1 300.3h1.2v1.2h-1.2zM234.8 307.0h1.2v1.2h-1.2zM230.7 322.9h1.2v1.2h-1.2zM218.6 306.0h1.2v1.2h-1.2zM225.7 311.8h1.2v1.2h-1.2zM294.7 299.7h1.2v1.2h-1.2zM222.0 320.7h1.2v1.2h-1.2zM232.6 297.0h1.2v1.2h-1.2zM219.9 324.5h1.2v1.2h-1.2zM226.3 289.9h1.2v1.2h-1.2zM247.1 287.1h1.2v1.2h-1.2zM218.7 292.9h1.2v1.2h-1.2zM233.5 311.5h1.2v1.2h-1.2zM234.7 303.0h1.2v1.2h-1.2zM221.8 294.4h1.2v1.2h-1.2zM226.8 320.1h1.2v1.2h-1.2zM233.0 292.9h1.2v1.2h-1.2zM233.7 332.1h1.2v1.2h-1.2zM232.7 294.2h1.2v1.2h-1.2zM231.8 302.2h1.2v1.2h-1.2zM218.5 301.0h1.2v1.2h-1.2zM289.3 312.3h1.2v1.2h-1.2zM243.6 305.3h1.2v1.2h-1.2zM225.6 342.9h1.2v1.2h-1.2zM220.1 298.3h1.2v1.2h-1.2zM268.5 305.8h1.2v1.2h-1.2zM224.3 315.1h1.2v1.2h-1.2zM224.5 306.6h1.2v1.2h-1.2zM240.3 327.4h1.2v1.2h-1.2zM238.7 322.4h1.2v1.2h-1.2zM235.2 301.4h1.2v1.2h-1.2zM222.3 293.8h1.2v1.2h-1.2zM234.3 299.1h1.2v1.2h-1.2zM242.8 307.7h1.2v1.2h-1.2zM226.4 296.8h1.2v1.2h-1.2zM217.3 364.4h1.2v1.2h-1.2zM238.9 297.8h1.2v1.2h-1.2zM220.2 291.2h1.2v1.2h-1.2zM216.4 298.8h1.2v1.2h-1.2zM238.8 298.4h1.2v1.2h-1.2zM229.7 307.8h1.2v1.2h-1.2zM275.3 320.5h1.2v1.2h-1.2zM239.1 312.7h1.2v1.2h-1.2zM288.9 310.4h1.2v1.2h-1.2zM218.7 347.3h1.2v1.2h-1.2zM226.5 326.9h1.2v1.2h-1.2zM217.0 310.6h1.2v1.2h-1.2zM278.5 306.1h1.2v1.2h-1.2zM229.9 328.1h1.2v1.2h-1.2zM217.1 312.4h1.2v1.2h-1.2zM220.0 300.7h1.2v1.2h-1.2zM217.2 303.9h1.2v1.2h-1.2zM222.4 306.0h1.2v1.2h-1.2zM247.7 293.5h1.2v1.2h-1.2zM242.6 328.2h1.2v1.2h-1.2zM275.4 299.2h1.2v1.2h-1.2zM244.1 298.1h1.2v1.2h-1.2zM244.5 298.3h1.2v1.2h-1.2zM229.8 298.3h1.2v1.2h-1.2zM218.5 310.6h1.2v1.2h-1.2zM220.3 332.5h1.2v1.2h-1.2zM219.7 297.6h1.2v1.2h-1.2zM228.1 319.7h1.2v1.2h-1.2zM245.5 319.9h1.2v1.2h-1.2zM251.6 315.9h1.2v1.2h-1.2zM235.7 307.3h1.2v1.2h-1.2zM231.9 322.1h1.2v1.2h-1.2zM223.3 308.3h1.2v1.2h-1.2zM278.6 302.9h1.2v1.2h-1.2zM230.5 309.2h1.2v1.2h-1.2zM225.8 319.8h1.2v1.2h-1.2zM224.7 311.8h1.2v1.2h-1.2zM217.1 298.7h1.2v1.2h-1.2zM237.6 293.7h1.2v1.2h-1.2zM236.8 303.9h1.2v1.2h-1.2zM225.0 306.9h1.2v1.2h-1.2zM235.1 307.8h1.2v1.2h-1.2zM234.7 335.4h1.2v1.2h-1.2zM225.1 295.3h1.2v1.2h-1.2zM222.5 311.4h1.2v1.2h-1.2zM290.2 299.5h1.2v1.2h-1.2zM219.3 344.2h1.2v1.2h-1.2zM228.0 325.1h1.2v1.2h-1.2zM235.7 311.0h1.2v1.2h-1.2zM217.5 293.1h1.2v1.2h-1.2zM225.4 293.8h1.2v1.2h-1.2zM271.2 290.6h1.2v1.2h-1.2zM225.9 324.7h1.2v1.2h-1.2zM250.3 340.6h1.2v1.2h-1.2zM249.8 309.8h1.2v1.2h-1.2zM241.9 299.9h1.2v1.2h-1.2zM225.0 297.1h1.2v1.2h-1.2zM240.6 317.1h1.2v1.2h-1.2zM218.6 318.6h1.2v1.2h-1.2zM229.7 292.9h1.2v1.2h-1.2zM224.9 308.3h1.2v1.2h-1.2zM239.0 321.8h1.2v1.2h-1.2zM226.5 309.9h1.2v1.2h-1.2zM224.9 287.5h1.2v1.2h-1.2zM259.3 293.9h1.2v1.2h-1.2zM228.1 313.3h1.2v1.2h-1.2zM237.5 294.6h1.2v1.2h-1.2zM228.5 312.5h1.2v1.2h-1.2zM218.2 344.0h1.2v1.2h-1.2zM227.6 303.5h1.2v1.2h-1.2zM217.0 321.3h1.2v1.2h-1.2zM218.7 328.7h1.2v1.2h-1.2zM221.1 309.6h1.2v1.2h-1.2zM218.9 311.6h1.2v1.2h-1.2zM220.9 309.7h1.2v1.2h-1.2zM238.6 334.5h1.2v1.2h-1.2zM235.1 312.3h1.2v1.2h-1.2zM218.4 297.4h1.2v1.2h-1.2zM293.0 299.2h1.2v1.2h-1.2zM226.6 294.1h1.2v1.2h-1.2zM228.8 334.8h1.2v1.2h-1.2zM216.5 294.1h1.2v1.2h-1.2zM247.4 288.7h1.2v1.2h-1.2zM280.5 284.4h1.2v1.2h-1.2zM221.0 315.8h1.2v1.2h-1.2zM254.0 296.8h1.2v1.2h-1.2zM264.3 296.8h1.2v1.2h-1.2zM229.1 288.6h1.2v1.2h-1.2zM259.1 298.1h1.2v1.2h-1.2zM267.6 332.4h1.2v1.2h-1.2zM235.3 308.3h1.2v1.2h-1.2zM228.6 313.4h1.2v1.2h-1.2zM252.9 306.7h1.2v1.2h-1.2zM242.7 301.6h1.2v1.2h-1.2zM223.0 323.0h1.2v1.2h-1.2zM232.5 301.0h1.2v1.2h-1.2zM220.6 301.2h1.2v1.2h-1.2zM225.4 312.4h1.2v1.2h-1.2zM233.7 342.1h1.2v1.2h-1.2zM218.3 326.6h1.2v1.2h-1.2zM217.6 326.1h1.2v1.2h-1.2zM246.9 301.1h1.2v1.2h-1.2zM234.7 294.6h1.2v1.2h-1.2zM222.7 325.6h1.2v1.2h-1.2zM222.4 295.1h1.2v1.2h-1.2zM237.1 300.4h1.2v1.2h-1.2zM232.3 322.1h1.2v1.2h-1.2zM224.1 302.7h1.2v1.2h-1.2zM219.1 299.4h1.2v1.2h-1.2zM222.4 313.8h1.2v1.2h-1.2zM219.1 297.4h1.2v1.2h-1.2zM250.7 329.0h1.2v1.2h-1.2zM223.1 353.2h1.2v1.2h-1.2zM248.7 295.2h1.2v1.2h-1.2zM243.2 309.1h1.2v1.2h-1.2zM296.6 291.1h1.2v1.2h-1.2zM216.9 312.1h1.2v1.2h-1.2zM254.5 290.3h1.2v1.2h-1.2zM279.1 296.0h1.2v1.2h-1.2zM240.5 339.3h1.2v1.2h-1.2zM246.4 314.3h1.2v1.2h-1.2zM237.4 308.7h1.2v1.2h-1.2zM222.4 325.5h1.2v1.2h-1.2zM225.7 319.5h1.2v1.2h-1.2zM217.3 343.0h1.2v1.2h-1.2zM258.1 293.2h1.2v1.2h-1.2zM232.2 330.7h1.2v1.2h-1.2zM227.6 301.8h1.2v1.2h-1.2zM216.5 313.2h1.2v1.2h-1.2zM237.4 320.8h1.2v1.2h-1.2zM218.8 296.2h1.2v1.2h-1.2zM222.2 318.3h1.2v1.2h-1.2zM228.9 325.8h1.2v1.2h-1.2zM219.9 286.8h1.2v1.2h-1.2zM235.2 291.1h1.2v1.2h-1.2zM222.4 296.2h1.2v1.2h-1.2zM230.0 310.3h1.2v1.2h-1.2zM220.3 302.8h1.2v1.2h-1.2zM218.9 291.2h1.2v1.2h-1.2zM236.8 284.6h1.2v1.2h-1.2zM220.7 317.9h1.2v1.2h-1.2zM218.3 321.6h1.2v1.2h-1.2zM230.9 298.2h1.2v1.2h-1.2zM267.0 303.5h1.2v1.2h-1.2zM247.6 287.1h1.2v1.2h-1.2zM275.0 292.5h1.2v1.2h-1.2zM274.4 296.3h1.2v1.2h-1.2zM301.2 295.9h1.2v1.2h-1.2zM250.5 294.9h1.2v1.2h-1.2zM251.6 321.7h1.2v1.2h-1.2zM284.2 295.9h1.2v1.2h-1.2zM276.4 294.6h1.2v1.2h-1.2zM294.3 293.2h1.2v1.2h-1.2zM221.8 290.5h1.2v1.2h-1.2zM244.4 290.6h1.2v1.2h-1.2zM301.3 288.4h1.2v1.2h-1.2zM283.3 305.4h1.2v1.2h-1.2zM264.3 292.1h1.2v1.2h-1.2zM253.3 305.1h1.2v1.2h-1.2zM297.9 293.8h1.2v1.2h-1.2zM313.5 294.5h1.2v1.2h-1.2zM307.8 289.2h1.2v1.2h-1.2zM268.9 293.9h1.2v1.2h-1.2zM247.5 292.1h1.2v1.2h-1.2zM235.7 295.1h1.2v1.2h-1.2zM217.6 289.7h1.2v1.2h-1.2zM280.0 295.8h1.2v1.2h-1.2zM254.1 298.9h1.2v1.2h-1.2zM218.6 294.9h1.2v1.2h-1.2zM290.8 287.2h1.2v1.2h-1.2zM280.2 286.9h1.2v1.2h-1.2zM270.8 290.0h1.2v1.2h-1.2zM309.0 293.6h1.2v1.2h-1.2zM247.6 287.6h1.2v1.2h-1.2zM228.8 325.4h1.2v1.2h-1.2zM216.5 286.6h1.2v1.2h-1.2zM297.6 297.2h1.2v1.2h-1.2zM298.8 289.0h1.2v1.2h-1.2zM271.4 287.9h1.2v1.2h-1.2zM280.4 287.0h1.2v1.2h-1.2zM280.8 293.8h1.2v1.2h-1.2zM220.2 290.1h1.2v1.2h-1.2zM242.7 291.7h1.2v1.2h-1.2zM217.0 310.6h1.2v1.2h-1.2zM288.1 299.0h1.2v1.2h-1.2zM286.1 289.8h1.2v1.2h-1.2zM225.1 287.1h1.2v1.2h-1.2zM226.8 291.5h1.2v1.2h-1.2zM269.6 301.2h1.2v1.2h-1.2zM216.5 298.8h1.2v1.2h-1.2zM257.4 320.0h1.2v1.2h-1.2zM314.4 286.3h1.2v1.2h-1.2zM312.9 290.7h1.2v1.2h-1.2zM264.2 305.8h1.2v1.2h-1.2zM270.6 292.3h1.2v1.2h-1.2zM217.1 299.5h1.2v1.2h-1.2zM220.6 294.0h1.2v1.2h-1.2zM236.7 295.8h1.2v1.2h-1.2zM219.7 304.1h1.2v1.2h-1.2zM298.9 318.0h1.2v1.2h-1.2zM224.7 298.9h1.2v1.2h-1.2zM286.8 290.7h1.2v1.2h-1.2zM297.3 295.2h1.2v1.2h-1.2zM220.4 332.3h1.2v1.2h-1.2zM217.7 328.2h1.2v1.2h-1.2zM236.1 342.6h1.2v1.2h-1.2zM220.9 327.6h1.2v1.2h-1.2zM248.2 363.1h1.2v1.2h-1.2zM218.3 381.9h1.2v1.2h-1.2zM231.9 375.4h1.2v1.2h-1.2zM252.3 325.7h1.2v1.2h-1.2zM312.6 345.0h1.2v1.2h-1.2zM219.2 338.7h1.2v1.2h-1.2zM228.2 369.1h1.2v1.2h-1.2zM236.0 374.9h1.2v1.2h-1.2zM277.9 362.8h1.2v1.2h-1.2zM244.5 380.3h1.2v1.2h-1.2zM253.1 344.6h1.2v1.2h-1.2zM220.0 337.5h1.2v1.2h-1.2zM217.3 351.8h1.2v1.2h-1.2zM226.3 372.2h1.2v1.2h-1.2zM222.9 385.1h1.2v1.2h-1.2zM236.2 341.3h1.2v1.2h-1.2zM231.1 326.9h1.2v1.2h-1.2zM253.1 346.2h1.2v1.2h-1.2zM220.5 372.0h1.2v1.2h-1.2zM232.3 363.4h1.2v1.2h-1.2zM225.3 399.0h1.2v1.2h-1.2zM221.8 395.8h1.2v1.2h-1.2zM260.6 340.6h1.2v1.2h-1.2zM295.9 334.7h1.2v1.2h-1.2zM217.8 393.7h1.2v1.2h-1.2zM232.9 391.8h1.2v1.2h-1.2zM273.7 399.0h1.2v1.2h-1.2zM267.5 325.4h1.2v1.2h-1.2zM222.2 367.1h1.2v1.2h-1.2zM249.4 359.9h1.2v1.2h-1.2zM278.6 386.0h1.2v1.2h-1.2zM229.6 351.4h1.2v1.2h-1.2zM250.7 369.2h1.2v1.2h-1.2zM230.6 370.6h1.2v1.2h-1.2zM280.7 395.8h1.2v1.2h-1.2zM248.2 333.2h1.2v1.2h-1.2zM232.0 401.0h1.2v1.2h-1.2zM245.8 355.1h1.2v1.2h-1.2zM228.3 339.8h1.2v1.2h-1.2zM227.3 367.3h1.2v1.2h-1.2zM220.6 338.9h1.2v1.2h-1.2zM264.6 357.4h1.2v1.2h-1.2zM277.6 399.4h1.2v1.2h-1.2zM240.5 337.3h1.2v1.2h-1.2zM236.6 377.7h1.2v1.2h-1.2zM345.5 298.2h1.2v1.2h-1.2zM344.5 289.4h1.2v1.2h-1.2zM347.8 289.5h1.2v1.2h-1.2zM324.5 289.4h1.2v1.2h-1.2zM320.5 289.4h1.2v1.2h-1.2z" fill="#111" fill-opacity="0.55"/>
<path d="M221.3 322.9h1.2v1.2h-1.2zM224.1 308.9h1.2v1.2h-1.2zM216.3 284.8h1.2v1.2h-1.2zM216.3 322.8h1.2v1.2h-1.2zM224.1 291.5h1.2v1.2h-1.2zM217.7 343.6h1.2v1.2h-1.2zM252.1 326.8h1.2v1.2h-1.2zM235.6 303.5h1.2v1.2h-1.2zM236.6 305.9h1.2v1.2h-1.2zM308.5 288.4h1.2v1.2h-1.2zM260.6 305.6h1.2v1.2h-1.2zM230.6 303.8h1.2v1.2h-1.2zM225.1 341.1h1.2v1.2h-1.2zM244.6 305.8h1.2v1.2h-1.2zM243.4 334.1h1.2v1.2h-1.2zM234.6 312.5h1.2v1.2h-1.2zM277.7 320.7h1.2v1.2h-1.2zM238.4 300.5h1.2v1.2h-1.2zM222.7 293.2h1.2v1.2h-1.2zM223.5 333.3h1.2v1.2h-1.2zM230.8 332.6h1.2v1.2h-1.2zM257.2 307.6h1.2v1.2h-1.2zM241.6 305.0h1.2v1.2h-1.2zM219.2 358.5h1.2v1.2h-1.2zM231.5 314.3h1.2v1.2h-1.2zM235.2 303.7h1.2v1.2h-1.2zM261.3 306.2h1.2v1.2h-1.2zM219.8 327.2h1.2v1.2h-1.2zM222.9 318.7h1.2v1.2h-1.2zM219.2 328.5h1.2v1.2h-1.2zM243.2 295.5h1.2v1.2h-1.2zM250.7 296.7h1.2v1.2h-1.2zM291.9 309.6h1.2v1.2h-1.2zM240.5 315.8h1.2v1.2h-1.2zM218.5 312.8h1.2v1.2h-1.2zM224.6 306.6h1.2v1.2h-1.2zM228.4 298.4h1.2v1.2h-1.2zM268.8 335.1h1.2v1.2h-1.2zM234.1 306.7h1.2v1.2h-1.2zM243.5 292.4h1.2v1.2h-1.2zM220.6 330.9h1.2v1.2h-1.2zM216.5 294.8h1.2v1.2h-1.2zM230.3 296.8h1.2v1.2h-1.2zM219.5 324.0h1.2v1.2h-1.2zM238.2 303.5h1.2v1.2h-1.2zM233.8 292.4h1.2v1.2h-1.2zM236.7 291.6h1.2v1.2h-1.2zM223.2 311.0h1.2v1.2h-1.2zM243.2 327.7h1.2v1.2h-1.2zM271.9 293.3h1.2v1.2h-1.2zM221.8 301.1h1.2v1.2h-1.2zM262.8 296.3h1.2v1.2h-1.2zM301.3 286.7h1.2v1.2h-1.2zM290.6 333.2h1.2v1.2h-1.2zM216.2 320.1h1.2v1.2h-1.2zM227.4 313.3h1.2v1.2h-1.2zM254.1 345.8h1.2v1.2h-1.2zM225.9 304.5h1.2v1.2h-1.2zM224.3 308.0h1.2v1.2h-1.2zM256.5 304.4h1.2v1.2h-1.2zM240.7 323.3h1.2v1.2h-1.2zM259.9 327.5h1.2v1.2h-1.2zM243.2 332.5h1.2v1.2h-1.2zM228.4 321.7h1.2v1.2h-1.2zM230.1 326.5h1.2v1.2h-1.2zM256.4 297.3h1.2v1.2h-1.2zM231.6 293.2h1.2v1.2h-1.2zM231.6 305.1h1.2v1.2h-1.2zM222.3 317.8h1.2v1.2h-1.2zM225.2 295.7h1.2v1.2h-1.2zM276.8 341.7h1.2v1.2h-1.2zM277.7 326.3h1.2v1.2h-1.2zM223.4 326.2h1.2v1.2h-1.2zM222.7 306.1h1.2v1.2h-1.2zM255.4 318.4h1.2v1.2h-1.2zM252.3 318.5h1.2v1.2h-1.2zM224.0 303.9h1.2v1.2h-1.2zM232.5 302.2h1.2v1.2h-1.2zM246.1 302.6h1.2v1.2h-1.2zM219.9 324.4h1.2v1.2h-1.2zM226.4 325.0h1.2v1.2h-1.2zM252.6 309.8h1.2v1.2h-1.2zM223.6 298.6h1.2v1.2h-1.2zM217.7 298.5h1.2v1.2h-1.2zM229.1 327.9h1.2v1.2h-1.2zM218.4 318.5h1.2v1.2h-1.2zM227.3 334.4h1.2v1.2h-1.2zM219.2 335.5h1.2v1.2h-1.2zM233.7 304.9h1.2v1.2h-1.2zM245.4 331.1h1.2v1.2h-1.2zM222.8 300.9h1.2v1.2h-1.2zM242.2 297.4h1.2v1.2h-1.2zM241.7 301.1h1.2v1.2h-1.2zM216.2 299.1h1.2v1.2h-1.2zM226.0 313.7h1.2v1.2h-1.2zM218.2 294.8h1.2v1.2h-1.2zM222.0 292.8h1.2v1.2h-1.2zM236.8 319.9h1.2v1.2h-1.2zM237.1 299.0h1.2v1.2h-1.2zM219.9 313.9h1.2v1.2h-1.2zM228.5 313.7h1.2v1.2h-1.2zM245.9 316.4h1.2v1.2h-1.2zM217.1 295.8h1.2v1.2h-1.2zM236.4 341.1h1.2v1.2h-1.2zM230.1 300.5h1.2v1.2h-1.2zM235.8 297.8h1.2v1.2h-1.2zM236.8 302.1h1.2v1.2h-1.2zM226.4 326.2h1.2v1.2h-1.2zM302.4 302.3h1.2v1.2h-1.2zM222.8 302.1h1.2v1.2h-1.2zM228.2 338.2h1.2v1.2h-1.2zM271.3 325.6h1.2v1.2h-1.2zM233.9 309.4h1.2v1.2h-1.2zM245.2 301.2h1.2v1.2h-1.2zM232.3 337.1h1.2v1.2h-1.2zM234.1 329.6h1.2v1.2h-1.2zM216.7 305.6h1.2v1.2h-1.2zM241.1 295.4h1.2v1.2h-1.2zM229.8 297.9h1.2v1.2h-1.2zM224.3 315.9h1.2v1.2h-1.2zM225.8 314.0h1.2v1.2h-1.2zM222.2 291.2h1.2v1.2h-1.2zM240.3 305.8h1.2v1.2h-1.2zM269.5 308.6h1.2v1.2h-1.2zM250.3 332.7h1.2v1.2h-1.2zM219.1 302.7h1.2v1.2h-1.2zM227.1 294.7h1.2v1.2h-1.2zM231.8 304.1h1.2v1.2h-1.2zM220.1 324.7h1.2v1.2h-1.2zM221.5 295.3h1.2v1.2h-1.2zM241.5 289.3h1.2v1.2h-1.2zM218.5 331.0h1.2v1.2h-1.2zM233.6 307.3h1.2v1.2h-1.2zM228.8 303.0h1.2v1.2h-1.2zM220.5 323.4h1.2v1.2h-1.2zM240.2 310.5h1.2v1.2h-1.2zM299.0 302.0h1.2v1.2h-1.2zM280.5 307.2h1.2v1.2h-1.2zM226.8 302.9h1.2v1.2h-1.2zM287.9 305.3h1.2v1.2h-1.2zM225.0 344.7h1.2v1.2h-1.2zM237.2 302.2h1.2v1.2h-1.2zM252.5 299.7h1.2v1.2h-1.2zM231.8 302.5h1.2v1.2h-1.2zM220.1 323.2h1.2v1.2h-1.2zM236.8 296.6h1.2v1.2h-1.2zM219.2 320.4h1.2v1.2h-1.2zM237.4 293.8h1.2v1.2h-1.2zM229.4 298.5h1.2v1.2h-1.2zM231.9 332.8h1.2v1.2h-1.2zM249.8 319.0h1.2v1.2h-1.2zM221.2 289.4h1.2v1.2h-1.2zM218.2 301.5h1.2v1.2h-1.2zM229.3 308.8h1.2v1.2h-1.2zM219.6 303.5h1.2v1.2h-1.2zM231.5 307.3h1.2v1.2h-1.2zM232.7 307.6h1.2v1.2h-1.2zM218.2 293.1h1.2v1.2h-1.2zM223.6 321.2h1.2v1.2h-1.2zM220.2 301.8h1.2v1.2h-1.2zM249.4 324.5h1.2v1.2h-1.2zM224.5 301.7h1.2v1.2h-1.2zM257.6 286.5h1.2v1.2h-1.2zM239.2 319.7h1.2v1.2h-1.2zM220.0 292.4h1.2v1.2h-1.2zM241.9 314.3h1.2v1.2h-1.2zM271.0 328.0h1.2v1.2h-1.2zM250.6 287.3h1.2v1.2h-1.2zM222.9 312.7h1.2v1.2h-1.2zM216.0 351.3h1.2v1.2h-1.2zM248.7 326.3h1.2v1.2h-1.2zM243.8 329.4h1.2v1.2h-1.2zM248.6 295.0h1.2v1.2h-1.2zM221.5 330.9h1.2v1.2h-1.2zM228.2 297.2h1.2v1.2h-1.2zM240.7 321.8h1.2v1.2h-1.2zM236.1 319.4h1.2v1.2h-1.2zM234.7 336.5h1.2v1.2h-1.2zM245.1 319.2h1.2v1.2h-1.2zM246.2 321.2h1.2v1.2h-1.2zM232.4 331.6h1.2v1.2h-1.2zM228.0 301.8h1.2v1.2h-1.2zM218.5 335.8h1.2v1.2h-1.2zM272.6 303.1h1.2v1.2h-1.2zM231.9 301.2h1.2v1.2h-1.2zM235.9 330.8h1.2v1.2h-1.2zM234.2 304.7h1.2v1.2h-1.2zM222.5 336.3h1.2v1.2h-1.2zM224.6 309.7h1.2v1.2h-1.2zM220.4 301.7h1.2v1.2h-1.2zM263.4 301.5h1.2v1.2h-1.2zM242.0 347.0h1.2v1.2h-1.2zM240.8 301.3h1.2v1.2h-1.2zM265.4 304.9h1.2v1.2h-1.2zM234.1 313.5h1.2v1.2h-1.2zM247.3 320.0h1.2v1.2h-1.2zM221.1 338.8h1.2v1.2h-1.2zM227.8 311.3h1.2v1.2h-1.2zM244.0 335.1h1.2v1.2h-1.2zM308.9 325.3h1.2v1.2h-1.2zM262.2 334.3h1.2v1.2h-1.2zM276.8 290.9h1.2v1.2h-1.2zM243.5 317.9h1.2v1.2h-1.2zM220.8 315.4h1.2v1.2h-1.2zM221.9 317.4h1.2v1.2h-1.2zM240.5 304.8h1.2v1.2h-1.2zM228.5 320.8h1.2v1.2h-1.2zM216.8 301.8h1.2v1.2h-1.2zM222.9 286.7h1.2v1.2h-1.2zM228.1 332.3h1.2v1.2h-1.2zM242.8 339.2h1.2v1.2h-1.2zM275.0 293.2h1.2v1.2h-1.2zM221.3 300.9h1.2v1.2h-1.2zM218.3 287.2h1.2v1.2h-1.2zM232.2 343.2h1.2v1.2h-1.2zM227.6 308.9h1.2v1.2h-1.2zM251.3 299.6h1.2v1.2h-1.2zM225.8 304.3h1.2v1.2h-1.2zM223.3 302.0h1.2v1.2h-1.2zM261.1 310.6h1.2v1.2h-1.2zM224.8 342.2h1.2v1.2h-1.2zM218.9 331.4h1.2v1.2h-1.2zM291.6 321.3h1.2v1.2h-1.2zM232.3 293.6h1.2v1.2h-1.2zM216.9 314.3h1.2v1.2h-1.2zM224.9 309.4h1.2v1.2h-1.2zM273.4 286.9h1.2v1.2h-1.2zM287.8 290.6h1.2v1.2h-1.2zM300.7 299.4h1.2v1.2h-1.2zM275.5 289.0h1.2v1.2h-1.2zM253.7 288.3h1.2v1.2h-1.2zM231.3 306.6h1.2v1.2h-1.2zM237.5 300.3h1.2v1.2h-1.2zM230.2 319.8h1.2v1.2h-1.2zM218.3 316.1h1.2v1.2h-1.2zM265.2 297.8h1.2v1.2h-1.2zM246.9 322.6h1.2v1.2h-1.2zM244.5 292.7h1.2v1.2h-1.2zM270.5 291.6h1.2v1.2h-1.2zM221.8 300.8h1.2v1.2h-1.2zM252.2 289.3h1.2v1.2h-1.2zM255.9 290.3h1.2v1.2h-1.2zM232.7 306.3h1.2v1.2h-1.2zM224.7 320.7h1.2v1.2h-1.2zM309.0 291.5h1.2v1.2h-1.2zM299.8 301.7h1.2v1.2h-1.2zM216.1 294.9h1.2v1.2h-1.2zM273.3 313.1h1.2v1.2h-1.2zM232.6 311.0h1.2v1.2h-1.2zM252.7 286.9h1.2v1.2h-1.2zM224.3 289.3h1.2v1.2h-1.2zM223.1 291.7h1.2v1.2h-1.2zM250.8 324.1h1.2v1.2h-1.2zM266.0 289.1h1.2v1.2h-1.2zM260.6 289.3h1.2v1.2h-1.2zM218.7 308.4h1.2v1.2h-1.2zM241.3 294.2h1.2v1.2h-1.2zM217.2 307.7h1.2v1.2h-1.2zM275.4 289.8h1.2v1.2h-1.2zM299.1 287.9h1.2v1.2h-1.2zM277.2 293.0h1.2v1.2h-1.2zM220.5 310.4h1.2v1.2h-1.2zM218.6 288.4h1.2v1.2h-1.2zM222.0 300.2h1.2v1.2h-1.2zM226.1 286.8h1.2v1.2h-1.2zM250.7 290.6h1.2v1.2h-1.2zM299.9 307.7h1.2v1.2h-1.2zM232.2 289.8h1.2v1.2h-1.2zM216.7 296.5h1.2v1.2h-1.2zM277.2 293.1h1.2v1.2h-1.2zM216.8 310.1h1.2v1.2h-1.2zM246.3 307.9h1.2v1.2h-1.2zM221.3 358.3h1.2v1.2h-1.2zM243.4 298.9h1.2v1.2h-1.2zM215.9 293.1h1.2v1.2h-1.2zM256.9 321.5h1.2v1.2h-1.2zM288.3 299.0h1.2v1.2h-1.2zM294.6 286.8h1.2v1.2h-1.2zM220.5 287.1h1.2v1.2h-1.2zM256.2 330.8h1.2v1.2h-1.2zM311.6 290.2h1.2v1.2h-1.2zM236.2 309.2h1.2v1.2h-1.2zM296.9 286.7h1.2v1.2h-1.2zM249.0 288.9h1.2v1.2h-1.2zM283.2 293.8h1.2v1.2h-1.2zM218.4 320.0h1.2v1.2h-1.2zM244.7 293.2h1.2v1.2h-1.2zM229.3 362.0h1.2v1.2h-1.2zM245.4 364.1h1.2v1.2h-1.2zM239.0 347.6h1.2v1.2h-1.2zM230.7 401.1h1.2v1.2h-1.2zM218.7 352.5h1.2v1.2h-1.2zM225.7 358.8h1.2v1.2h-1.2zM230.8 353.4h1.2v1.2h-1.2zM227.7 340.1h1.2v1.2h-1.2zM284.7 329.2h1.2v1.2h-1.2zM238.8 340.8h1.2v1.2h-1.2zM237.3 331.6h1.2v1.2h-1.2zM243.5 327.2h1.2v1.2h-1.2zM276.9 373.1h1.2v1.2h-1.2zM229.1 364.2h1.2v1.2h-1.2zM266.7 360.6h1.2v1.2h-1.2zM217.2 394.9h1.2v1.2h-1.2zM248.1 390.2h1.2v1.2h-1.2zM227.7 369.3h1.2v1.2h-1.2zM277.3 335.3h1.2v1.2h-1.2zM224.7 383.2h1.2v1.2h-1.2zM237.2 358.0h1.2v1.2h-1.2zM217.6 377.4h1.2v1.2h-1.2zM221.6 346.0h1.2v1.2h-1.2zM224.1 400.3h1.2v1.2h-1.2zM258.3 357.3h1.2v1.2h-1.2zM219.3 338.0h1.2v1.2h-1.2zM220.1 329.5h1.2v1.2h-1.2zM217.7 385.6h1.2v1.2h-1.2zM254.0 350.4h1.2v1.2h-1.2zM252.0 386.2h1.2v1.2h-1.2zM219.4 337.7h1.2v1.2h-1.2zM219.9 351.4h1.2v1.2h-1.2zM228.5 355.0h1.2v1.2h-1.2zM224.3 349.5h1.2v1.2h-1.2zM221.0 380.7h1.2v1.2h-1.2zM307.2 328.8h1.2v1.2h-1.2zM219.3 401.3h1.2v1.2h-1.2zM228.0 364.0h1.2v1.2h-1.2zM231.0 354.5h1.2v1.2h-1.2zM219.3 353.8h1.2v1.2h-1.2zM233.4 334.9h1.2v1.2h-1.2zM219.2 385.7h1.2v1.2h-1.2zM244.2 400.2h1.2v1.2h-1.2zM228.5 350.5h1.2v1.2h-1.2zM226.2 343.9h1.2v1.2h-1.2zM216.7 372.2h1.2v1.2h-1.2zM239.6 386.0h1.2v1.2h-1.2zM231.4 339.3h1.2v1.2h-1.2zM319.2 286.3h1.2v1.2h-1.2zM316.9 314.9h1.2v1.2h-1.2zM346.3 295.0h1.2v1.2h-1.2zM343.3 287.0h1.2v1.2h-1.2zM328.4 298.6h1.2v1.2h-1.2z" fill="#111" fill-opacity="0.55"/>
<path d="M225.6 286.4h1.2v1.2h-1.2zM222.1 287.9h1.2v1.2h-1.2zM226.8 286.8h1.2v1.2h-1.2zM276.7 285.4h1.2v1.2h-1.2zM251.5 287.0h1.2v1.2h-1.2zM238.8 286.8h1.2v1.2h-1.2zM264.4 284.6h1.2v1.2h-1.2zM279.3 286.3h1.2v1.2h-1.2zM217.7 286.3h1.2v1.2h-1.2zM260.3 287.5h1.2v1.2h-1.2zM290.8 285.4h1.2v1.2h-1.2zM276.9 286.4h1.2v1.2h-1.2zM250.5 286.9h1.2v1.2h-1.2zM306.2 287.2h1.2v1.2h-1.2zM248.9 284.5h1.2v1.2h-1.2zM243.9 287.3h1.2v1.2h-1.2zM229.4 284.7h1.2v1.2h-1.2zM279.1 284.9h1.2v1.2h-1.2zM232.3 287.4h1.2v1.2h-1.2zM225.0 284.3h1.2v1.2h-1.2zM260.4 287.6h1.2v1.2h-1.2zM232.6 285.3h1.2v1.2h-1.2zM281.9 285.2h1.2v1.2h-1.2zM298.8 286.2h1.2v1.2h-1.2zM230.3 286.8h1.2v1.2h-1.2zM296.9 285.5h1.2v1.2h-1.2zM237.0 285.8h1.2v1.2h-1.2zM268.9 285.6h1.2v1.2h-1.2zM279.6 285.9h1.2v1.2h-1.2zM224.1 284.8h1.2v1.2h-1.2zM284.2 286.1h1.2v1.2h-1.2zM219.4 284.0h1.2v1.2h-1.2zM296.4 286.2h1.2v1.2h-1.2zM246.1 285.5h1.2v1.2h-1.2zM251.8 286.8h1.2v1.2h-1.2zM256.5 286.7h1.2v1.2h-1.2zM247.8 287.4h1.2v1.2h-1.2zM261.2 284.8h1.2v1.2h-1.2zM231.2 287.0h1.2v1.2h-1.2zM235.1 285.7h1.2v1.2h-1.2zM292.2 285.7h1.2v1.2h-1.2zM260.4 286.2h1.2v1.2h-1.2zM230.5 286.5h1.2v1.2h-1.2zM279.5 285.0h1.2v1.2h-1.2zM266.2 286.5h1.2v1.2h-1.2zM223.7 287.9h1.2v1.2h-1.2zM273.2 284.9h1.2v1.2h-1.2zM243.6 286.7h1.2v1.2h-1.2zM230.0 287.4h1.2v1.2h-1.2zM302.7 287.2h1.2v1.2h-1.2zM231.3 285.5h1.2v1.2h-1.2zM280.1 284.0h1.2v1.2h-1.2zM277.5 284.6h1.2v1.2h-1.2zM216.6 286.9h1.2v1.2h-1.2zM303.8 285.0h1.2v1.2h-1.2zM246.8 287.4h1.2v1.2h-1.2zM301.0 284.5h1.2v1.2h-1.2zM270.8 286.2h1.2v1.2h-1.2zM229.6 285.8h1.2v1.2h-1.2zM285.3 284.9h1.2v1.2h-1.2zM248.6 285.3h1.2v1.2h-1.2zM276.1 285.2h1.2v1.2h-1.2zM233.7 284.5h1.2v1.2h-1.2zM224.3 286.8h1.2v1.2h-1.2zM225.2 285.5h1.2v1.2h-1.2zM303.0 286.4h1.2v1.2h-1.2zM248.7 284.7h1.2v1.2h-1.2zM235.4 287.6h1.2v1.2h-1.2zM224.1 285.3h1.2v1.2h-1.2zM231.7 284.1h1.2v1.2h-1.2zM229.2 284.6h1.2v1.2h-1.2zM286.1 286.7h1.2v1.2h-1.2zM262.0 285.3h1.2v1.2h-1.2zM261.0 285.2h1.2v1.2h-1.2zM301.7 285.0h1.2v1.2h-1.2zM251.5 286.2h1.2v1.2h-1.2zM259.0 284.1h1.2v1.2h-1.2zM224.4 286.1h1.2v1.2h-1.2zM298.1 285.8h1.2v1.2h-1.2zM296.5 287.6h1.2v1.2h-1.2zM259.9 285.5h1.2v1.2h-1.2zM278.3 286.9h1.2v1.2h-1.2zM304.6 285.3h1.2v1.2h-1.2zM259.0 286.3h1.2v1.2h-1.2zM279.3 284.7h1.2v1.2h-1.2zM223.7 285.6h1.2v1.2h-1.2zM306.0 284.3h1.2v1.2h-1.2zM274.2 285.9h1.2v1.2h-1.2zM217.9 285.8h1.2v1.2h-1.2zM244.7 287.3h1.2v1.2h-1.2zM262.5 284.8h1.2v1.2h-1.2zM236.6 284.9h1.2v1.2h-1.2zM242.2 284.3h1.2v1.2h-1.2zM259.8 285.9h1.2v1.2h-1.2zM289.6 286.8h1.2v1.2h-1.2zM247.7 287.4h1.2v1.2h-1.2zM220.1 287.3h1.2v1.2h-1.2zM308.8 286.4h1.2v1.2h-1.2zM306.1 287.5h1.2v1.2h-1.2zM301.6 285.0h1.2v1.2h-1.2zM262.6 287.2h1.2v1.2h-1.2zM226.1 284.7h1.2v1.2h-1.2zM299.2 286.7h1.2v1.2h-1.2zM216.7 284.9h1.2v1.2h-1.2zM307.6 284.9h1.2v1.2h-1.2zM242.7 287.4h1.2v1.2h-1.2zM234.8 284.1h1.2v1.2h-1.2zM227.3 285.8h1.2v1.2h-1.2zM296.4 284.8h1.2v1.2h-1.2zM260.5 283.6h1.2v1.2h-1.2zM252.1 285.9h1.2v1.2h-1.2zM292.6 287.9h1.2v1.2h-1.2zM308.4 285.2h1.2v1.2h-1.2zM286.0 284.6h1.2v1.2h-1.2zM259.5 287.0h1.2v1.2h-1.2zM243.8 287.2h1.2v1.2h-1.2zM265.3 287.1h1.2v1.2h-1.2zM306.1 287.3h1.2v1.2h-1.2zM271.1 286.8h1.2v1.2h-1.2zM243.8 286.3h1.2v1.2h-1.2zM220.8 285.8h1.2v1.2h-1.2zM236.0 285.8h1.2v1.2h-1.2zM257.7 286.0h1.2v1.2h-1.2zM289.5 285.7h1.2v1.2h-1.2zM226.6 284.5h1.2v1.2h-1.2zM217.9 285.1h1.2v1.2h-1.2zM282.8 285.5h1.2v1.2h-1.2zM286.8 286.5h1.2v1.2h-1.2zM233.2 286.4h1.2v1.2h-1.2zM217.1 287.3h1.2v1.2h-1.2zM303.3 284.1h1.2v1.2h-1.2zM274.7 286.6h1.2v1.2h-1.2zM219.7 284.5h1.2v1.2h-1.2zM267.3 287.0h1.2v1.2h-1.2zM298.2 285.7h1.2v1.2h-1.2zM218.7 284.3h1.2v1.2h-1.2zM254.9 286.7h1.2v1.2h-1.2zM246.9 286.4h1.2v1.2h-1.2zM248.8 285.2h1.2v1.2h-1.2zM303.2 286.1h1.2v1.2h-1.2zM253.5 285.9h1.2v1.2h-1.2zM237.2 286.1h1.2v1.2h-1.2zM260.4 285.0h1.2v1.2h-1.2zM247.6 285.5h1.2v1.2h-1.2zM262.9 284.6h1.2v1.2h-1.2zM227.3 284.9h1.2v1.2h-1.2zM273.7 285.6h1.2v1.2h-1.2zM218.0 284.6h1.2v1.2h-1.2zM276.9 285.2h1.2v1.2h-1.2zM270.4 286.3h1.2v1.2h-1.2zM234.6 286.4h1.2v1.2h-1.2zM297.6 285.1h1.2v1.2h-1.2zM298.0 286.3h1.2v1.2h-1.2zM244.4 286.1h1.2v1.2h-1.2zM257.8 285.0h1.2v1.2h-1.2zM304.0 286.9h1.2v1.2h-1.2zM272.4 284.3h1.2v1.2h-1.2zM246.5 285.1h1.2v1.2h-1.2zM272.7 285.4h1.2v1.2h-1.2zM223.8 286.7h1.2v1.2h-1.2zM287.7 287.4h1.2v1.2h-1.2zM238.6 285.7h1.2v1.2h-1.2zM300.8 286.2h1.2v1.2h-1.2zM248.6 287.1h1.2v1.2h-1.2zM241.3 286.2h1.2v1.2h-1.2zM228.1 284.9h1.2v1.2h-1.2zM290.4 286.0h1.2v1.2h-1.2zM249.0 285.6h1.2v1.2h-1.2zM240.3 285.0h1.2v1.2h-1.2zM231.4 287.6h1.2v1.2h-1.2zM285.4 285.0h1.2v1.2h-1.2zM288.5 284.9h1.2v1.2h-1.2zM216.9 285.0h1.2v1.2h-1.2zM249.9 285.9h1.2v1.2h-1.2zM220.5 286.6h1.2v1.2h-1.2zM284.5 287.3h1.2v1.2h-1.2zM308.1 284.1h1.2v1.2h-1.2zM284.8 286.7h1.2v1.2h-1.2zM220.3 286.5h1.2v1.2h-1.2zM234.1 286.7h1.2v1.2h-1.2zM281.3 284.8h1.2v1.2h-1.2zM284.4 286.4h1.2v1.2h-1.2zM251.6 285.9h1.2v1.2h-1.2zM237.2 287.3h1.2v1.2h-1.2zM274.8 286.0h1.2v1.2h-1.2zM271.0 287.3h1.2v1.2h-1.2zM234.7 284.1h1.2v1.2h-1.2zM244.8 284.6h1.2v1.2h-1.2zM234.6 286.8h1.2v1.2h-1.2zM265.3 285.0h1.2v1.2h-1.2zM307.6 286.2h1.2v1.2h-1.2zM268.3 284.9h1.2v1.2h-1.2zM227.2 287.5h1.2v1.2h-1.2zM229.0 286.0h1.2v1.2h-1.2zM265.1 285.1h1.2v1.2h-1.2zM228.8 286.1h1.2v1.2h-1.2zM244.5 285.5h1.2v1.2h-1.2zM245.9 287.4h1.2v1.2h-1.2zM244.8 284.8h1.2v1.2h-1.2zM269.8 284.1h1.2v1.2h-1.2zM265.9 285.5h1.2v1.2h-1.2zM245.4 285.1h1.2v1.2h-1.2zM267.5 287.4h1.2v1.2h-1.2zM301.4 285.5h1.2v1.2h-1.2zM239.1 285.3h1.2v1.2h-1.2zM248.5 286.0h1.2v1.2h-1.2zM235.9 284.8h1.2v1.2h-1.2zM257.9 285.7h1.2v1.2h-1.2zM309.1 284.8h1.2v1.2h-1.2zM275.8 285.2h1.2v1.2h-1.2zM231.9 286.6h1.2v1.2h-1.2zM261.4 285.9h1.2v1.2h-1.2zM258.8 287.9h1.2v1.2h-1.2zM233.4 284.0h1.2v1.2h-1.2zM275.2 284.2h1.2v1.2h-1.2zM220.4 287.1h1.2v1.2h-1.2zM308.1 287.0h1.2v1.2h-1.2zM243.8 285.4h1.2v1.2h-1.2zM236.2 285.3h1.2v1.2h-1.2zM243.7 286.2h1.2v1.2h-1.2zM225.4 287.7h1.2v1.2h-1.2zM239.0 286.5h1.2v1.2h-1.2zM243.3 286.9h1.2v1.2h-1.2zM287.2 286.8h1.2v1.2h-1.2zM300.9 283.6h1.2v1.2h-1.2zM254.7 285.7h1.2v1.2h-1.2zM286.1 285.1h1.2v1.2h-1.2zM257.8 284.5h1.2v1.2h-1.2zM234.2 285.4h1.2v1.2h-1.2zM289.1 284.9h1.2v1.2h-1.2zM219.2 285.0h1.2v1.2h-1.2zM217.6 286.6h1.2v1.2h-1.2zM220.0 284.4h1.2v1.2h-1.2zM271.6 284.9h1.2v1.2h-1.2zM263.5 283.9h1.2v1.2h-1.2zM302.4 284.4h1.2v1.2h-1.2zM249.8 285.2h1.2v1.2h-1.2zM293.0 287.5h1.2v1.2h-1.2zM240.9 285.5h1.2v1.2h-1.2zM218.4 286.8h1.2v1.2h-1.2zM233.4 286.4h1.2v1.2h-1.2zM249.6 284.4h1.2v1.2h-1.2zM220.2 285.0h1.2v1.2h-1.2zM303.8 284.7h1.2v1.2h-1.2zM263.6 286.2h1.2v1.2h-1.2zM282.2 287.0h1.2v1.2h-1.2zM223.0 285.0h1.2v1.2h-1.2zM283.9 284.1h1.2v1.2h-1.2zM225.5 287.6h1.2v1.2h-1.2zM266.6 285.6h1.2v1.2h-1.2zM243.5 284.7h1.2v1.2h-1.2zM301.9 285.3h1.2v1.2h-1.2zM278.6 285.8h1.2v1.2h-1.2zM224.1 286.9h1.2v1.2h-1.2zM219.9 286.8h1.2v1.2h-1.2zM225.5 287.1h1.2v1.2h-1.2zM287.7 286.3h1.2v1.2h-1.2zM247.1 284.7h1.2v1.2h-1.2zM231.8 285.4h1.2v1.2h-1.2zM233.2 285.5h1.2v1.2h-1.2zM232.7 286.2h1.2v1.2h-1.2zM216.2 286.0h1.2v1.2h-1.2zM224.0 286.3h1.2v1.2h-1.2zM242.5 286.8h1.2v1.2h-1.2zM300.2 284.6h1.2v1.2h-1.2zM299.6 285.5h1.2v1.2h-1.2zM254.0 287.2h1.2v1.2h-1.2zM258.3 287.5h1.2v1.2h-1.2zM265.3 287.1h1.2v1.2h-1.2zM289.2 285.3h1.2v1.2h-1.2zM270.2 286.0h1.2v1.2h-1.2zM246.7 284.5h1.2v1.2h-1.2zM293.0 287.0h1.2v1.2h-1.2zM225.7 285.0h1.2v1.2h-1.2zM239.7 284.3h1.2v1.2h-1.2zM267.9 284.2h1.2v1.2h-1.2zM226.1 284.2h1.2v1.2h-1.2zM255.1 284.4h1.2v1.2h-1.2zM220.5 285.9h1.2v1.2h-1.2zM222.6 285.9h1.2v1.2h-1.2zM216.3 285.7h1.2v1.2h-1.2zM222.1 287.4h1.2v1.2h-1.2zM288.6 285.4h1.2v1.2h-1.2zM289.5 286.7h1.2v1.2h-1.2zM223.5 285.7h1.2v1.2h-1.2zM271.3 286.2h1.2v1.2h-1.2zM250.2 287.4h1.2v1.2h-1.2zM284.3 286.7h1.2v1.2h-1.2zM280.4 286.6h1.2v1.2h-1.2zM278.0 286.3h1.2v1.2h-1.2zM239.2 284.2h1.2v1.2h-1.2zM254.5 285.1h1.2v1.2h-1.2zM268.7 286.6h1.2v1.2h-1.2zM277.1 287.4h1.2v1.2h-1.2zM298.4 286.2h1.2v1.2h-1.2zM217.4 286.4h1.2v1.2h-1.2zM229.3 285.8h1.2v1.2h-1.2zM222.8 285.0h1.2v1.2h-1.2zM232.1 286.9h1.2v1.2h-1.2zM247.2 284.0h1.2v1.2h-1.2zM246.5 285.1h1.2v1.2h-1.2zM310.4 287.4h1.2v1.2h-1.2zM300.8 287.1h1.2v1.2h-1.2zM256.4 287.0h1.2v1.2h-1.2zM226.9 287.2h1.2v1.2h-1.2zM293.3 285.1h1.2v1.2h-1.2zM308.5 285.0h1.2v1.2h-1.2zM302.2 285.5h1.2v1.2h-1.2zM298.0 286.6h1.2v1.2h-1.2zM260.5 285.2h1.2v1.2h-1.2zM305.0 283.9h1.2v1.2h-1.2zM293.0 284.3h1.2v1.2h-1.2zM239.5 287.6h1.2v1.2h-1.2zM233.7 286.9h1.2v1.2h-1.2zM232.5 287.6h1.2v1.2h-1.2zM217.4 287.8h1.2v1.2h-1.2zM281.6 284.1h1.2v1.2h-1.2zM228.4 287.0h1.2v1.2h-1.2zM219.0 286.1h1.2v1.2h-1.2zM218.5 284.4h1.2v1.2h-1.2zM310.4 285.2h1.2v1.2h-1.2zM269.8 286.5h1.2v1.2h-1.2zM302.0 285.5h1.2v1.2h-1.2zM232.4 287.3h1.2v1.2h-1.2zM258.0 284.4h1.2v1.2h-1.2zM237.4 284.4h1.2v1.2h-1.2zM284.1 284.9h1.2v1.2h-1.2zM217.6 287.2h1.2v1.2h-1.2zM298.6 285.7h1.2v1.2h-1.2zM228.7 286.5h1.2v1.2h-1.2zM219.0 286.4h1.2v1.2h-1.2zM250.7 287.3h1.2v1.2h-1.2zM227.8 285.1h1.2v1.2h-1.2zM304.4 285.0h1.2v1.2h-1.2zM278.9 285.2h1.2v1.2h-1.2zM290.8 284.2h1.2v1.2h-1.2zM284.2 286.7h1.2v1.2h-1.2zM230.3 285.6h1.2v1.2h-1.2zM265.9 284.6h1.2v1.2h-1.2zM249.1 286.6h1.2v1.2h-1.2zM245.0 284.3h1.2v1.2h-1.2zM290.8 286.6h1.2v1.2h-1.2zM285.4 287.0h1.2v1.2h-1.2zM224.9 284.5h1.2v1.2h-1.2zM244.7 285.4h1.2v1.2h-1.2zM234.0 286.9h1.2v1.2h-1.2zM264.0 284.4h1.2v1.2h-1.2zM228.0 284.3h1.2v1.2h-1.2zM295.0 286.6h1.2v1.2h-1.2zM294.4 285.5h1.2v1.2h-1.2zM257.9 284.8h1.2v1.2h-1.2zM277.3 287.0h1.2v1.2h-1.2zM257.6 285.0h1.2v1.2h-1.2zM233.2 284.7h1.2v1.2h-1.2zM224.0 286.0h1.2v1.2h-1.2zM240.7 287.8h1.2v1.2h-1.2zM236.2 286.1h1.2v1.2h-1.2zM267.6 286.4h1.2v1.2h-1.2zM240.7 284.2h1.2v1.2h-1.2zM220.9 287.8h1.2v1.2h-1.2zM250.3 286.3h1.2v1.2h-1.2zM247.5 285.8h1.2v1.2h-1.2zM253.6 285.4h1.2v1.2h-1.2zM228.1 285.5h1.2v1.2h-1.2zM284.8 285.1h1.2v1.2h-1.2zM222.3 287.0h1.2v1.2h-1.2zM266.6 285.0h1.2v1.2h-1.2zM286.1 285.8h1.2v1.2h-1.2zM218.1 286.8h1.2v1.2h-1.2zM245.5 286.9h1.2v1.2h-1.2zM303.0 284.6h1.2v1.2h-1.2zM239.4 284.4h1.2v1.2h-1.2zM254.6 284.0h1.2v1.2h-1.2zM284.1 284.4h1.2v1.2h-1.2zM258.8 285.2h1.2v1.2h-1.2zM230.2 284.4h1.2v1.2h-1.2zM249.5 284.9h1.2v1.2h-1.2zM279.7 286.4h1.2v1.2h-1.2zM256.9 284.7h1.2v1.2h-1.2zM250.8 285.4h1.2v1.2h-1.2zM245.6 287.0h1.2v1.2h-1.2zM233.7 284.7h1.2v1.2h-1.2zM270.6 285.1h1.2v1.2h-1.2zM294.6 285.5h1.2v1.2h-1.2zM232.8 287.4h1.2v1.2h-1.2zM257.9 286.8h1.2v1.2h-1.2zM307.8 285.6h1.2v1.2h-1.2zM291.7 287.1h1.2v1.2h-1.2zM305.0 284.4h1.2v1.2h-1.2zM236.4 285.5h1.2v1.2h-1.2zM217.6 284.8h1.2v1.2h-1.2zM253.4 287.7h1.2v1.2h-1.2zM294.4 285.3h1.2v1.2h-1.2zM262.8 286.6h1.2v1.2h-1.2zM283.0 285.6h1.2v1.2h-1.2zM260.9 286.5h1.2v1.2h-1.2zM219.5 286.9h1.2v1.2h-1.2zM240.1 286.5h1.2v1.2h-1.2zM252.1 284.1h1.2v1.2h-1.2zM243.1 285.2h1.2v1.2h-1.2zM300.3 286.0h1.2v1.2h-1.2zM306.1 286.0h1.2v1.2h-1.2zM224.5 286.6h1.2v1.2h-1.2zM225.8 286.0h1.2v1.2h-1.2zM258.3 285.0h1.2v1.2h-1.2zM302.7 284.4h1.2v1.2h-1.2zM228.7 284.5h1.2v1.2h-1.2zM272.1 284.8h1.2v1.2h-1.2zM225.4 283.7h1.2v1.2h-1.2zM273.5 284.6h1.2v1.2h-1.2zM266.9 285.0h1.2v1.2h-1.2zM237.8 283.8h1.2v1.2h-1.2zM228.3 285.3h1.2v1.2h-1.2zM228.3 285.8h1.2v1.2h-1.2zM281.0 286.5h1.2v1.2h-1.2zM217.8 286.3h1.2v1.2h-1.2z" fill="#1a1a1a" fill-opacity="0.22"/>
<rect x="40.9" y="281" width="499.5" height="122.1" fill="none" stroke="#676767" stroke-width="1.25"/>
<line x1="35.2" y1="284.0" x2="40.9" y2="284.0" stroke="#707070" stroke-width="1.2"/>
<text transform="translate(29.2 286.4) rotate(-90)" class="axC" text-anchor="middle" style="letter-spacing:0.7px">100</text>
<line x1="35.2" y1="313.8" x2="40.9" y2="313.8" stroke="#707070" stroke-width="1.2"/>
<text transform="translate(29.2 316.2) rotate(-90)" class="axC" text-anchor="middle" style="letter-spacing:0.7px">95</text>
<line x1="35.2" y1="343.6" x2="40.9" y2="343.6" stroke="#707070" stroke-width="1.2"/>
<text transform="translate(29.2 345.9) rotate(-90)" class="axC" text-anchor="middle" style="letter-spacing:0.7px">90</text>
<line x1="35.2" y1="373.3" x2="40.9" y2="373.3" stroke="#707070" stroke-width="1.2"/>
<text transform="translate(29.2 375.7) rotate(-90)" class="axC" text-anchor="middle" style="letter-spacing:0.7px">85</text>
<line x1="35.2" y1="403.1" x2="40.9" y2="403.1" stroke="#707070" stroke-width="1.2"/>
<text transform="translate(29.2 405.5) rotate(-90)" class="axC" text-anchor="middle" style="letter-spacing:0.7px">80</text>
<line x1="59.5" y1="403.1" x2="59.5" y2="408.6" stroke="#707070" stroke-width="1.2"/>
<text x="59.5" y="420.7" class="axC" text-anchor="middle">0</text>
<line x1="127.4" y1="403.1" x2="127.4" y2="408.6" stroke="#707070" stroke-width="1.2"/>
<text x="127.4" y="420.7" class="axC" text-anchor="middle">1</text>
<line x1="195.3" y1="403.1" x2="195.3" y2="408.6" stroke="#707070" stroke-width="1.2"/>
<text x="195.3" y="420.7" class="axC" text-anchor="middle">2</text>
<line x1="263.2" y1="403.1" x2="263.2" y2="408.6" stroke="#707070" stroke-width="1.2"/>
<text x="263.2" y="420.7" class="axC" text-anchor="middle">3</text>
<line x1="331.1" y1="403.1" x2="331.1" y2="408.6" stroke="#707070" stroke-width="1.2"/>
<text x="331.1" y="420.7" class="axC" text-anchor="middle">4</text>
<line x1="399.0" y1="403.1" x2="399.0" y2="408.6" stroke="#707070" stroke-width="1.2"/>
<text x="399.0" y="420.7" class="axC" text-anchor="middle">5</text>
<line x1="466.9" y1="403.1" x2="466.9" y2="408.6" stroke="#707070" stroke-width="1.2"/>
<text x="466.9" y="420.7" class="axC" text-anchor="middle">6</text>
<line x1="534.8" y1="403.1" x2="534.8" y2="408.6" stroke="#707070" stroke-width="1.2"/>
<text x="534.8" y="420.7" class="axC" text-anchor="middle">7</text>
<text transform="translate(14.5 336.4) rotate(-90)" class="axC" text-anchor="middle" style="letter-spacing:0.75px">% identity</text>
<text x="254.2" y="435.6" class="tC2">Megabasepairs</text>
<line x1="41.5" y1="307.8" x2="540.3" y2="307.8" stroke="#ff5555" stroke-width="1.1"/>
<rect x="319.4" y="285.7" width="4.1" height="115" fill="#000"/>
<line x1="342.5" y1="318" x2="342.5" y2="323" stroke="#444" stroke-width="1" stroke-dasharray="1 1.2"/>
<line x1="342.5" y1="323" x2="342.5" y2="400.6" stroke="#3a3a3a" stroke-width="1"/>
<rect x="313.9" y="282.1" width="34.6" height="119.6" fill="none" stroke="#f00" stroke-width="1.8"/>
<path d="M214.65 288.1 V403" fill="none" stroke="#f01010" stroke-width="1.8" stroke-dasharray="4.9 2.13"/>
<path d="M214.65 285.7 V271.4 H226.5" fill="none" stroke="#f01010" stroke-width="1.9"/>
<polygon points="226.2,268.2 231.4,271.4 226.2,274.4" fill="#f01010"/>
</g>
</svg>
</body></html>
